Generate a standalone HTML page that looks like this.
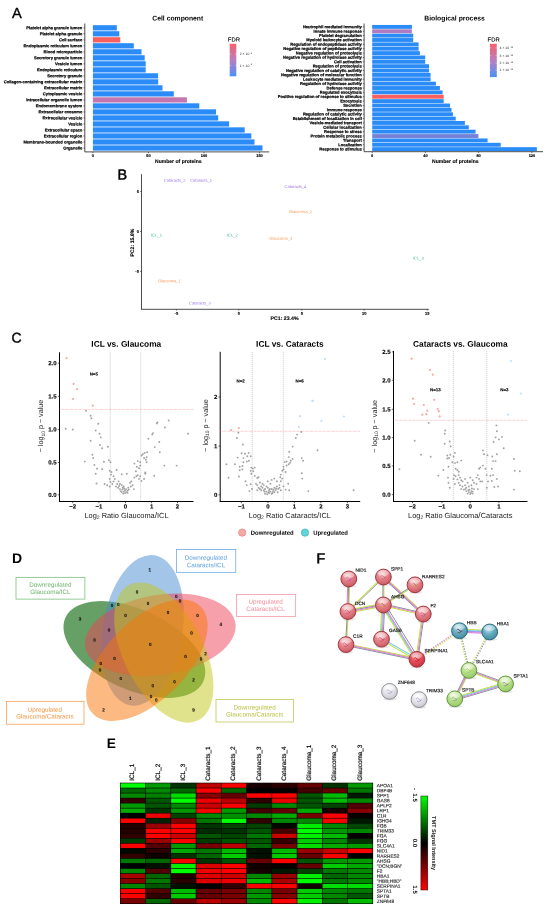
<!DOCTYPE html>
<html><head><meta charset="utf-8"><title>Figure</title>
<style>html,body{margin:0;padding:0;background:#fff}svg{display:block}text{font-family:"Liberation Sans",Arial,Helvetica,sans-serif;text-rendering:geometricPrecision}</style></head>
<body>
<svg width="550" height="911" viewBox="0 0 550 911">
<defs>
<linearGradient id="gA" x1="0" y1="0" x2="0" y2="1"><stop offset="0" stop-color="#f9606a"/><stop offset="0.5" stop-color="#b87fc0"/><stop offset="1" stop-color="#4a90f8"/></linearGradient>
<linearGradient id="gE" x1="0" y1="0" x2="0" y2="1"><stop offset="0" stop-color="#00ff00"/><stop offset="0.5" stop-color="#000000"/><stop offset="1" stop-color="#ff0000"/></linearGradient>
<radialGradient id="nr" cx="0.42" cy="0.30" r="0.75"><stop offset="0" stop-color="#f8cfd0"/><stop offset="0.45" stop-color="#e4838a"/><stop offset="1" stop-color="#c8525c"/></radialGradient>
<radialGradient id="nr2" cx="0.42" cy="0.30" r="0.75"><stop offset="0" stop-color="#f3a8ac"/><stop offset="0.45" stop-color="#e2505a"/><stop offset="1" stop-color="#c22f3b"/></radialGradient>
<radialGradient id="nb" cx="0.42" cy="0.30" r="0.75"><stop offset="0" stop-color="#cdeaf1"/><stop offset="0.45" stop-color="#6aaec3"/><stop offset="1" stop-color="#3c889f"/></radialGradient>
<radialGradient id="ng" cx="0.42" cy="0.30" r="0.75"><stop offset="0" stop-color="#eefad9"/><stop offset="0.45" stop-color="#b7df8a"/><stop offset="1" stop-color="#90c660"/></radialGradient>
<radialGradient id="nw" cx="0.42" cy="0.30" r="0.75"><stop offset="0" stop-color="#ffffff"/><stop offset="0.45" stop-color="#e6e6ea"/><stop offset="1" stop-color="#c2c2cb"/></radialGradient>
</defs>
<rect x="0" y="0" width="550" height="911" fill="#fff"/>
<text x="11.90" y="17.90" font-size="14.6" text-anchor="start" fill="#000" transform="rotate(0.03 11.90 17.90)" stroke="#000" stroke-width="0.35">A</text>
<text x="117.50" y="179.40" font-size="14.4" text-anchor="start" fill="#000" transform="rotate(0.03 117.50 179.40)" stroke="#000" stroke-width="0.45">B</text>
<text x="11.40" y="342.60" font-size="14.0" text-anchor="start" fill="#000" transform="rotate(0.03 11.40 342.60)" stroke="#000" stroke-width="0.35">C</text>
<text x="12.10" y="563.00" font-size="14.0" font-weight="bold" text-anchor="start" fill="#000" transform="rotate(0.03 12.10 563.00)">D</text>
<text x="106.70" y="747.90" font-size="13.8" font-weight="bold" text-anchor="start" fill="#000" transform="rotate(0.03 106.70 747.90)">E</text>
<text x="316.40" y="563.20" font-size="14.2" text-anchor="start" fill="#000" transform="rotate(0.03 316.40 563.20)" stroke="#000" stroke-width="0.6">F</text>
<g id="panelA">
<rect x="92.90" y="25.18" width="23.90" height="5.25" fill="#2b8cf7"/>
<text x="82.30" y="29.25" font-size="4.13" font-weight="bold" text-anchor="end" fill="#000" transform="rotate(0.03 82.30 29.25)" stroke="#000" stroke-width="0.2">Platelet alpha granule lumen</text>
<line x1="83.40" y1="27.80" x2="84.80" y2="27.80" stroke="#000" stroke-width="0.5"/>
<rect x="92.90" y="31.19" width="26.40" height="5.25" fill="#2b8cf7"/>
<text x="82.30" y="35.26" font-size="4.13" font-weight="bold" text-anchor="end" fill="#000" transform="rotate(0.03 82.30 35.26)" stroke="#000" stroke-width="0.2">Platelet alpha granule</text>
<line x1="83.40" y1="33.81" x2="84.80" y2="33.81" stroke="#000" stroke-width="0.5"/>
<rect x="92.90" y="37.20" width="27.40" height="5.25" fill="#fa5f5f"/>
<text x="82.30" y="41.27" font-size="4.13" font-weight="bold" text-anchor="end" fill="#000" transform="rotate(0.03 82.30 41.27)" stroke="#000" stroke-width="0.2">Cell surface</text>
<line x1="83.40" y1="39.82" x2="84.80" y2="39.82" stroke="#000" stroke-width="0.5"/>
<rect x="92.90" y="43.20" width="40.90" height="5.25" fill="#2b8cf7"/>
<text x="82.30" y="47.28" font-size="4.13" font-weight="bold" text-anchor="end" fill="#000" transform="rotate(0.03 82.30 47.28)" stroke="#000" stroke-width="0.2">Endoplasmic reticulum lumen</text>
<line x1="83.40" y1="45.83" x2="84.80" y2="45.83" stroke="#000" stroke-width="0.5"/>
<rect x="92.90" y="49.22" width="48.60" height="5.25" fill="#2b8cf7"/>
<text x="82.30" y="53.29" font-size="4.13" font-weight="bold" text-anchor="end" fill="#000" transform="rotate(0.03 82.30 53.29)" stroke="#000" stroke-width="0.2">Blood microparticle</text>
<line x1="83.40" y1="51.84" x2="84.80" y2="51.84" stroke="#000" stroke-width="0.5"/>
<rect x="92.90" y="55.22" width="51.80" height="5.25" fill="#2b8cf7"/>
<text x="82.30" y="59.30" font-size="4.13" font-weight="bold" text-anchor="end" fill="#000" transform="rotate(0.03 82.30 59.30)" stroke="#000" stroke-width="0.2">Secretory granule lumen</text>
<line x1="83.40" y1="57.85" x2="84.80" y2="57.85" stroke="#000" stroke-width="0.5"/>
<rect x="92.90" y="61.23" width="52.80" height="5.25" fill="#2b8cf7"/>
<text x="82.30" y="65.31" font-size="4.13" font-weight="bold" text-anchor="end" fill="#000" transform="rotate(0.03 82.30 65.31)" stroke="#000" stroke-width="0.2">Vesicle lumen</text>
<line x1="83.40" y1="63.86" x2="84.80" y2="63.86" stroke="#000" stroke-width="0.5"/>
<rect x="92.90" y="67.25" width="52.80" height="5.25" fill="#2b8cf7"/>
<text x="82.30" y="71.32" font-size="4.13" font-weight="bold" text-anchor="end" fill="#000" transform="rotate(0.03 82.30 71.32)" stroke="#000" stroke-width="0.2">Endoplasmic reticulum</text>
<line x1="83.40" y1="69.87" x2="84.80" y2="69.87" stroke="#000" stroke-width="0.5"/>
<rect x="92.90" y="73.25" width="65.20" height="5.25" fill="#2b8cf7"/>
<text x="82.30" y="77.33" font-size="4.13" font-weight="bold" text-anchor="end" fill="#000" transform="rotate(0.03 82.30 77.33)" stroke="#000" stroke-width="0.2">Secretory granule</text>
<line x1="83.40" y1="75.88" x2="84.80" y2="75.88" stroke="#000" stroke-width="0.5"/>
<rect x="92.90" y="79.27" width="65.30" height="5.25" fill="#2b8cf7"/>
<text x="82.30" y="83.34" font-size="4.13" font-weight="bold" text-anchor="end" fill="#000" transform="rotate(0.03 82.30 83.34)" stroke="#000" stroke-width="0.2">Collagen-containing extracellular matrix</text>
<line x1="83.40" y1="81.89" x2="84.80" y2="81.89" stroke="#000" stroke-width="0.5"/>
<rect x="92.90" y="85.27" width="69.60" height="5.25" fill="#2b8cf7"/>
<text x="82.30" y="89.35" font-size="4.13" font-weight="bold" text-anchor="end" fill="#000" transform="rotate(0.03 82.30 89.35)" stroke="#000" stroke-width="0.2">Extracellular matrix</text>
<line x1="83.40" y1="87.90" x2="84.80" y2="87.90" stroke="#000" stroke-width="0.5"/>
<rect x="92.90" y="91.28" width="80.90" height="5.25" fill="#2b8cf7"/>
<text x="82.30" y="95.36" font-size="4.13" font-weight="bold" text-anchor="end" fill="#000" transform="rotate(0.03 82.30 95.36)" stroke="#000" stroke-width="0.2">Cytoplasmic vesicle</text>
<line x1="83.40" y1="93.91" x2="84.80" y2="93.91" stroke="#000" stroke-width="0.5"/>
<rect x="92.90" y="97.30" width="94.00" height="5.25" fill="#c476b0"/>
<text x="82.30" y="101.37" font-size="4.13" font-weight="bold" text-anchor="end" fill="#000" transform="rotate(0.03 82.30 101.37)" stroke="#000" stroke-width="0.2">Intracellular organelle lumen</text>
<line x1="83.40" y1="99.92" x2="84.80" y2="99.92" stroke="#000" stroke-width="0.5"/>
<rect x="92.90" y="103.30" width="106.40" height="5.25" fill="#2b8cf7"/>
<text x="82.30" y="107.38" font-size="4.13" font-weight="bold" text-anchor="end" fill="#000" transform="rotate(0.03 82.30 107.38)" stroke="#000" stroke-width="0.2">Endomembrane system</text>
<line x1="83.40" y1="105.93" x2="84.80" y2="105.93" stroke="#000" stroke-width="0.5"/>
<rect x="92.90" y="109.31" width="123.10" height="5.25" fill="#2b8cf7"/>
<text x="82.30" y="113.39" font-size="4.13" font-weight="bold" text-anchor="end" fill="#000" transform="rotate(0.03 82.30 113.39)" stroke="#000" stroke-width="0.2">Extracellular exosome</text>
<line x1="83.40" y1="111.94" x2="84.80" y2="111.94" stroke="#000" stroke-width="0.5"/>
<rect x="92.90" y="115.32" width="125.30" height="5.25" fill="#2b8cf7"/>
<text x="82.30" y="119.40" font-size="4.13" font-weight="bold" text-anchor="end" fill="#000" transform="rotate(0.03 82.30 119.40)" stroke="#000" stroke-width="0.2">Extracellular vesicle</text>
<line x1="83.40" y1="117.95" x2="84.80" y2="117.95" stroke="#000" stroke-width="0.5"/>
<rect x="92.90" y="121.33" width="136.20" height="5.25" fill="#2b8cf7"/>
<text x="82.30" y="125.41" font-size="4.13" font-weight="bold" text-anchor="end" fill="#000" transform="rotate(0.03 82.30 125.41)" stroke="#000" stroke-width="0.2">Vesicle</text>
<line x1="83.40" y1="123.96" x2="84.80" y2="123.96" stroke="#000" stroke-width="0.5"/>
<rect x="92.90" y="127.34" width="151.80" height="5.25" fill="#2b8cf7"/>
<text x="82.30" y="131.42" font-size="4.13" font-weight="bold" text-anchor="end" fill="#000" transform="rotate(0.03 82.30 131.42)" stroke="#000" stroke-width="0.2">Extracellular space</text>
<line x1="83.40" y1="129.97" x2="84.80" y2="129.97" stroke="#000" stroke-width="0.5"/>
<rect x="92.90" y="133.35" width="158.40" height="5.25" fill="#2b8cf7"/>
<text x="82.30" y="137.43" font-size="4.13" font-weight="bold" text-anchor="end" fill="#000" transform="rotate(0.03 82.30 137.43)" stroke="#000" stroke-width="0.2">Extracellular region</text>
<line x1="83.40" y1="135.98" x2="84.80" y2="135.98" stroke="#000" stroke-width="0.5"/>
<rect x="92.90" y="139.37" width="161.60" height="5.25" fill="#2b8cf7"/>
<text x="82.30" y="143.44" font-size="4.13" font-weight="bold" text-anchor="end" fill="#000" transform="rotate(0.03 82.30 143.44)" stroke="#000" stroke-width="0.2">Membrane-bounded organelle</text>
<line x1="83.40" y1="141.99" x2="84.80" y2="141.99" stroke="#000" stroke-width="0.5"/>
<rect x="92.90" y="145.38" width="169.60" height="5.25" fill="#2b8cf7"/>
<text x="82.30" y="149.45" font-size="4.13" font-weight="bold" text-anchor="end" fill="#000" transform="rotate(0.03 82.30 149.45)" stroke="#000" stroke-width="0.2">Organelle</text>
<line x1="83.40" y1="148.00" x2="84.80" y2="148.00" stroke="#000" stroke-width="0.5"/>
<line x1="84.80" y1="23.50" x2="84.80" y2="151.90" stroke="#000" stroke-width="0.7"/>
<line x1="84.80" y1="151.90" x2="269.20" y2="151.90" stroke="#000" stroke-width="0.7"/>
<line x1="92.90" y1="151.90" x2="92.90" y2="153.30" stroke="#000" stroke-width="0.5"/>
<text x="92.90" y="156.90" font-size="3.9" font-weight="bold" text-anchor="middle" fill="#000" transform="rotate(0.03 92.90 156.90)" stroke="#000" stroke-width="0.15">0</text>
<line x1="148.40" y1="151.90" x2="148.40" y2="153.30" stroke="#000" stroke-width="0.5"/>
<text x="148.40" y="156.90" font-size="3.9" font-weight="bold" text-anchor="middle" fill="#000" transform="rotate(0.03 148.40 156.90)" stroke="#000" stroke-width="0.15">50</text>
<line x1="204.00" y1="151.90" x2="204.00" y2="153.30" stroke="#000" stroke-width="0.5"/>
<text x="204.00" y="156.90" font-size="3.9" font-weight="bold" text-anchor="middle" fill="#000" transform="rotate(0.03 204.00 156.90)" stroke="#000" stroke-width="0.15">100</text>
<line x1="259.50" y1="151.90" x2="259.50" y2="153.30" stroke="#000" stroke-width="0.5"/>
<text x="259.50" y="156.90" font-size="3.9" font-weight="bold" text-anchor="middle" fill="#000" transform="rotate(0.03 259.50 156.90)" stroke="#000" stroke-width="0.15">150</text>
<text x="178.30" y="162.90" font-size="5.05" font-weight="bold" text-anchor="middle" fill="#000" transform="rotate(0.03 178.30 162.90)" stroke="#000" stroke-width="0.12">Number of proteins</text>
<text x="177.80" y="20.60" font-size="6.8" font-weight="bold" text-anchor="middle" fill="#000" transform="rotate(0.03 177.80 20.60)">Cell component</text>
<text x="227.80" y="41.50" font-size="5.9" text-anchor="start" fill="#000" transform="rotate(0.03 227.80 41.50)" stroke="#000" stroke-width="0.12">FDR</text>
<rect x="229.70" y="43.80" width="6.60" height="32.50" fill="url(#gA)"/>
<line x1="229.70" y1="54.20" x2="231.00" y2="54.20" stroke="#fff" stroke-width="0.4"/>
<line x1="235.00" y1="54.20" x2="236.30" y2="54.20" stroke="#fff" stroke-width="0.4"/>
<text x="239.8" y="55.30" font-size="3.4" fill="#222">2 × 10<tspan font-size="2.3" dy="-1.2">−3</tspan></text>
<line x1="229.70" y1="65.40" x2="231.00" y2="65.40" stroke="#fff" stroke-width="0.4"/>
<line x1="235.00" y1="65.40" x2="236.30" y2="65.40" stroke="#fff" stroke-width="0.4"/>
<text x="239.8" y="66.50" font-size="3.4" fill="#222">1 × 10<tspan font-size="2.3" dy="-1.2">−3</tspan></text>
</g>
<g id="panelA2">
<rect x="372.20" y="24.95" width="39.70" height="3.90" fill="#2b8cf7"/>
<text x="361.80" y="28.30" font-size="4.1" font-weight="bold" text-anchor="end" fill="#000" transform="rotate(0.03 361.80 28.30)" stroke="#000" stroke-width="0.2">Neutrophil mediated immunity</text>
<line x1="362.80" y1="26.90" x2="364.10" y2="26.90" stroke="#000" stroke-width="0.5"/>
<rect x="372.20" y="29.32" width="39.70" height="3.90" fill="#af7abf"/>
<text x="361.80" y="32.66" font-size="4.1" font-weight="bold" text-anchor="end" fill="#000" transform="rotate(0.03 361.80 32.66)" stroke="#000" stroke-width="0.2">Innate immune response</text>
<line x1="362.80" y1="31.27" x2="364.10" y2="31.27" stroke="#000" stroke-width="0.5"/>
<rect x="372.20" y="33.68" width="41.00" height="3.90" fill="#2b8cf7"/>
<text x="361.80" y="37.03" font-size="4.1" font-weight="bold" text-anchor="end" fill="#000" transform="rotate(0.03 361.80 37.03)" stroke="#000" stroke-width="0.2">Platelet degranulation</text>
<line x1="362.80" y1="35.63" x2="364.10" y2="35.63" stroke="#000" stroke-width="0.5"/>
<rect x="372.20" y="38.04" width="41.00" height="3.90" fill="#2b8cf7"/>
<text x="361.80" y="41.39" font-size="4.1" font-weight="bold" text-anchor="end" fill="#000" transform="rotate(0.03 361.80 41.39)" stroke="#000" stroke-width="0.2">Myeloid leukocyte activation</text>
<line x1="362.80" y1="39.99" x2="364.10" y2="39.99" stroke="#000" stroke-width="0.5"/>
<rect x="372.20" y="42.41" width="46.40" height="3.90" fill="#2b8cf7"/>
<text x="361.80" y="45.76" font-size="4.1" font-weight="bold" text-anchor="end" fill="#000" transform="rotate(0.03 361.80 45.76)" stroke="#000" stroke-width="0.2">Regulation of endopeptidase activity</text>
<line x1="362.80" y1="44.36" x2="364.10" y2="44.36" stroke="#000" stroke-width="0.5"/>
<rect x="372.20" y="46.77" width="46.40" height="3.90" fill="#2b8cf7"/>
<text x="361.80" y="50.12" font-size="4.1" font-weight="bold" text-anchor="end" fill="#000" transform="rotate(0.03 361.80 50.12)" stroke="#000" stroke-width="0.2">Negative regulation of peptidase activity</text>
<line x1="362.80" y1="48.73" x2="364.10" y2="48.73" stroke="#000" stroke-width="0.5"/>
<rect x="372.20" y="51.14" width="47.70" height="3.90" fill="#2b8cf7"/>
<text x="361.80" y="54.49" font-size="4.1" font-weight="bold" text-anchor="end" fill="#000" transform="rotate(0.03 361.80 54.49)" stroke="#000" stroke-width="0.2">Negative regulation of proteolysis</text>
<line x1="362.80" y1="53.09" x2="364.10" y2="53.09" stroke="#000" stroke-width="0.5"/>
<rect x="372.20" y="55.50" width="53.00" height="3.90" fill="#2b8cf7"/>
<text x="361.80" y="58.85" font-size="4.1" font-weight="bold" text-anchor="end" fill="#000" transform="rotate(0.03 361.80 58.85)" stroke="#000" stroke-width="0.2">Negative regulation of hydrolase activity</text>
<line x1="362.80" y1="57.45" x2="364.10" y2="57.45" stroke="#000" stroke-width="0.5"/>
<rect x="372.20" y="59.87" width="53.00" height="3.90" fill="#2b8cf7"/>
<text x="361.80" y="63.22" font-size="4.1" font-weight="bold" text-anchor="end" fill="#000" transform="rotate(0.03 361.80 63.22)" stroke="#000" stroke-width="0.2">Cell activation</text>
<line x1="362.80" y1="61.82" x2="364.10" y2="61.82" stroke="#000" stroke-width="0.5"/>
<rect x="372.20" y="64.23" width="56.80" height="3.90" fill="#2b8cf7"/>
<text x="361.80" y="67.59" font-size="4.1" font-weight="bold" text-anchor="end" fill="#000" transform="rotate(0.03 361.80 67.59)" stroke="#000" stroke-width="0.2">Regulation of proteolysis</text>
<line x1="362.80" y1="66.19" x2="364.10" y2="66.19" stroke="#000" stroke-width="0.5"/>
<rect x="372.20" y="68.60" width="56.80" height="3.90" fill="#2b8cf7"/>
<text x="361.80" y="71.95" font-size="4.1" font-weight="bold" text-anchor="end" fill="#000" transform="rotate(0.03 361.80 71.95)" stroke="#000" stroke-width="0.2">Negative regulation of catalytic activity</text>
<line x1="362.80" y1="70.55" x2="364.10" y2="70.55" stroke="#000" stroke-width="0.5"/>
<rect x="372.20" y="72.96" width="58.40" height="3.90" fill="#2b8cf7"/>
<text x="361.80" y="76.31" font-size="4.1" font-weight="bold" text-anchor="end" fill="#000" transform="rotate(0.03 361.80 76.31)" stroke="#000" stroke-width="0.2">Negative regulation of molecular function</text>
<line x1="362.80" y1="74.91" x2="364.10" y2="74.91" stroke="#000" stroke-width="0.5"/>
<rect x="372.20" y="77.33" width="58.40" height="3.90" fill="#2b8cf7"/>
<text x="361.80" y="80.68" font-size="4.1" font-weight="bold" text-anchor="end" fill="#000" transform="rotate(0.03 361.80 80.68)" stroke="#000" stroke-width="0.2">Leukocyte mediated immunity</text>
<line x1="362.80" y1="79.28" x2="364.10" y2="79.28" stroke="#000" stroke-width="0.5"/>
<rect x="372.20" y="81.70" width="63.70" height="3.90" fill="#2b8cf7"/>
<text x="361.80" y="85.05" font-size="4.1" font-weight="bold" text-anchor="end" fill="#000" transform="rotate(0.03 361.80 85.05)" stroke="#000" stroke-width="0.2">Regulation of hydrolase activity</text>
<line x1="362.80" y1="83.65" x2="364.10" y2="83.65" stroke="#000" stroke-width="0.5"/>
<rect x="372.20" y="86.06" width="67.70" height="3.90" fill="#2b8cf7"/>
<text x="361.80" y="89.41" font-size="4.1" font-weight="bold" text-anchor="end" fill="#000" transform="rotate(0.03 361.80 89.41)" stroke="#000" stroke-width="0.2">Defense response</text>
<line x1="362.80" y1="88.01" x2="364.10" y2="88.01" stroke="#000" stroke-width="0.5"/>
<rect x="372.20" y="90.42" width="70.40" height="3.90" fill="#2b8cf7"/>
<text x="361.80" y="93.78" font-size="4.1" font-weight="bold" text-anchor="end" fill="#000" transform="rotate(0.03 361.80 93.78)" stroke="#000" stroke-width="0.2">Regulated exocytosis</text>
<line x1="362.80" y1="92.38" x2="364.10" y2="92.38" stroke="#000" stroke-width="0.5"/>
<rect x="372.20" y="94.79" width="71.50" height="3.90" fill="#fa5f5f"/>
<text x="361.80" y="98.14" font-size="4.1" font-weight="bold" text-anchor="end" fill="#000" transform="rotate(0.03 361.80 98.14)" stroke="#000" stroke-width="0.2">Positive regulation of response to stimulus</text>
<line x1="362.80" y1="96.74" x2="364.10" y2="96.74" stroke="#000" stroke-width="0.5"/>
<rect x="372.20" y="99.15" width="71.50" height="3.90" fill="#2b8cf7"/>
<text x="361.80" y="102.50" font-size="4.1" font-weight="bold" text-anchor="end" fill="#000" transform="rotate(0.03 361.80 102.50)" stroke="#000" stroke-width="0.2">Exocytosis</text>
<line x1="362.80" y1="101.10" x2="364.10" y2="101.10" stroke="#000" stroke-width="0.5"/>
<rect x="372.20" y="103.52" width="77.80" height="3.90" fill="#2b8cf7"/>
<text x="361.80" y="106.87" font-size="4.1" font-weight="bold" text-anchor="end" fill="#000" transform="rotate(0.03 361.80 106.87)" stroke="#000" stroke-width="0.2">Secretion</text>
<line x1="362.80" y1="105.47" x2="364.10" y2="105.47" stroke="#000" stroke-width="0.5"/>
<rect x="372.20" y="107.89" width="79.30" height="3.90" fill="#2b8cf7"/>
<text x="361.80" y="111.24" font-size="4.1" font-weight="bold" text-anchor="end" fill="#000" transform="rotate(0.03 361.80 111.24)" stroke="#000" stroke-width="0.2">Immune response</text>
<line x1="362.80" y1="109.84" x2="364.10" y2="109.84" stroke="#000" stroke-width="0.5"/>
<rect x="372.20" y="112.25" width="80.70" height="3.90" fill="#2b8cf7"/>
<text x="361.80" y="115.60" font-size="4.1" font-weight="bold" text-anchor="end" fill="#000" transform="rotate(0.03 361.80 115.60)" stroke="#000" stroke-width="0.2">Regulation of catalytic activity</text>
<line x1="362.80" y1="114.20" x2="364.10" y2="114.20" stroke="#000" stroke-width="0.5"/>
<rect x="372.20" y="116.61" width="83.50" height="3.90" fill="#2b8cf7"/>
<text x="361.80" y="119.97" font-size="4.1" font-weight="bold" text-anchor="end" fill="#000" transform="rotate(0.03 361.80 119.97)" stroke="#000" stroke-width="0.2">Establishment of localization in cell</text>
<line x1="362.80" y1="118.56" x2="364.10" y2="118.56" stroke="#000" stroke-width="0.5"/>
<rect x="372.20" y="120.98" width="92.70" height="3.90" fill="#2b8cf7"/>
<text x="361.80" y="124.33" font-size="4.1" font-weight="bold" text-anchor="end" fill="#000" transform="rotate(0.03 361.80 124.33)" stroke="#000" stroke-width="0.2">Vesicle-mediated transport</text>
<line x1="362.80" y1="122.93" x2="364.10" y2="122.93" stroke="#000" stroke-width="0.5"/>
<rect x="372.20" y="125.35" width="96.60" height="3.90" fill="#2b8cf7"/>
<text x="361.80" y="128.70" font-size="4.1" font-weight="bold" text-anchor="end" fill="#000" transform="rotate(0.03 361.80 128.70)" stroke="#000" stroke-width="0.2">Cellular localization</text>
<line x1="362.80" y1="127.30" x2="364.10" y2="127.30" stroke="#000" stroke-width="0.5"/>
<rect x="372.20" y="129.71" width="103.40" height="3.90" fill="#2b8cf7"/>
<text x="361.80" y="133.06" font-size="4.1" font-weight="bold" text-anchor="end" fill="#000" transform="rotate(0.03 361.80 133.06)" stroke="#000" stroke-width="0.2">Response to stress</text>
<line x1="362.80" y1="131.66" x2="364.10" y2="131.66" stroke="#000" stroke-width="0.5"/>
<rect x="372.20" y="134.08" width="106.20" height="3.90" fill="#7482d8"/>
<text x="361.80" y="137.43" font-size="4.1" font-weight="bold" text-anchor="end" fill="#000" transform="rotate(0.03 361.80 137.43)" stroke="#000" stroke-width="0.2">Protein metabolic process</text>
<line x1="362.80" y1="136.03" x2="364.10" y2="136.03" stroke="#000" stroke-width="0.5"/>
<rect x="372.20" y="138.44" width="115.40" height="3.90" fill="#2b8cf7"/>
<text x="361.80" y="141.79" font-size="4.1" font-weight="bold" text-anchor="end" fill="#000" transform="rotate(0.03 361.80 141.79)" stroke="#000" stroke-width="0.2">Transport</text>
<line x1="362.80" y1="140.39" x2="364.10" y2="140.39" stroke="#000" stroke-width="0.5"/>
<rect x="372.20" y="142.81" width="128.50" height="3.90" fill="#2b8cf7"/>
<text x="361.80" y="146.16" font-size="4.1" font-weight="bold" text-anchor="end" fill="#000" transform="rotate(0.03 361.80 146.16)" stroke="#000" stroke-width="0.2">Localization</text>
<line x1="362.80" y1="144.75" x2="364.10" y2="144.75" stroke="#000" stroke-width="0.5"/>
<rect x="372.20" y="147.17" width="164.70" height="3.90" fill="#2b8cf7"/>
<text x="361.80" y="150.52" font-size="4.1" font-weight="bold" text-anchor="end" fill="#000" transform="rotate(0.03 361.80 150.52)" stroke="#000" stroke-width="0.2">Response to stimulus</text>
<line x1="362.80" y1="149.12" x2="364.10" y2="149.12" stroke="#000" stroke-width="0.5"/>
<line x1="364.10" y1="23.50" x2="364.10" y2="151.70" stroke="#000" stroke-width="0.7"/>
<line x1="364.10" y1="151.70" x2="543.00" y2="151.70" stroke="#000" stroke-width="0.7"/>
<line x1="372.20" y1="151.70" x2="372.20" y2="153.10" stroke="#000" stroke-width="0.5"/>
<text x="372.20" y="156.90" font-size="3.9" font-weight="bold" text-anchor="middle" fill="#000" transform="rotate(0.03 372.20 156.90)" stroke="#000" stroke-width="0.15">0</text>
<line x1="425.40" y1="151.70" x2="425.40" y2="153.10" stroke="#000" stroke-width="0.5"/>
<text x="425.40" y="156.90" font-size="3.9" font-weight="bold" text-anchor="middle" fill="#000" transform="rotate(0.03 425.40 156.90)" stroke="#000" stroke-width="0.15">40</text>
<line x1="478.60" y1="151.70" x2="478.60" y2="153.10" stroke="#000" stroke-width="0.5"/>
<text x="478.60" y="156.90" font-size="3.9" font-weight="bold" text-anchor="middle" fill="#000" transform="rotate(0.03 478.60 156.90)" stroke="#000" stroke-width="0.15">80</text>
<line x1="531.90" y1="151.70" x2="531.90" y2="153.10" stroke="#000" stroke-width="0.5"/>
<text x="531.90" y="156.90" font-size="3.9" font-weight="bold" text-anchor="middle" fill="#000" transform="rotate(0.03 531.90 156.90)" stroke="#000" stroke-width="0.15">120</text>
<text x="455.30" y="162.90" font-size="5.05" font-weight="bold" text-anchor="middle" fill="#000" transform="rotate(0.03 455.30 162.90)" stroke="#000" stroke-width="0.12">Number of proteins</text>
<text x="454.50" y="20.60" font-size="6.8" font-weight="bold" text-anchor="middle" fill="#000" transform="rotate(0.03 454.50 20.60)">Biological process</text>
<text x="487.60" y="41.50" font-size="5.9" text-anchor="start" fill="#000" transform="rotate(0.03 487.60 41.50)" stroke="#000" stroke-width="0.12">FDR</text>
<rect x="489.90" y="43.80" width="6.90" height="33.30" fill="url(#gA)"/>
<line x1="489.90" y1="47.80" x2="491.20" y2="47.80" stroke="#fff" stroke-width="0.4"/>
<line x1="495.50" y1="47.80" x2="496.80" y2="47.80" stroke="#fff" stroke-width="0.4"/>
<text x="499.6" y="48.90" font-size="3.4" fill="#222">4 × 10<tspan font-size="2.3" dy="-1.2">−13</tspan></text>
<line x1="489.90" y1="55.70" x2="491.20" y2="55.70" stroke="#fff" stroke-width="0.4"/>
<line x1="495.50" y1="55.70" x2="496.80" y2="55.70" stroke="#fff" stroke-width="0.4"/>
<text x="499.6" y="56.80" font-size="3.4" fill="#222">3 × 10<tspan font-size="2.3" dy="-1.2">−13</tspan></text>
<line x1="489.90" y1="63.10" x2="491.20" y2="63.10" stroke="#fff" stroke-width="0.4"/>
<line x1="495.50" y1="63.10" x2="496.80" y2="63.10" stroke="#fff" stroke-width="0.4"/>
<text x="499.6" y="64.20" font-size="3.4" fill="#222">2 × 10<tspan font-size="2.3" dy="-1.2">−13</tspan></text>
<line x1="489.90" y1="70.20" x2="491.20" y2="70.20" stroke="#fff" stroke-width="0.4"/>
<line x1="495.50" y1="70.20" x2="496.80" y2="70.20" stroke="#fff" stroke-width="0.4"/>
<text x="499.6" y="71.30" font-size="3.4" fill="#222">1 × 10<tspan font-size="2.3" dy="-1.2">−13</tspan></text>
</g>
<g id="panelB">
<line x1="141.50" y1="174.20" x2="141.50" y2="309.30" stroke="#000" stroke-width="0.7"/>
<line x1="141.15" y1="309.30" x2="428.80" y2="309.30" stroke="#000" stroke-width="0.7"/>
<line x1="140.10" y1="191.50" x2="141.50" y2="191.50" stroke="#000" stroke-width="0.5"/>
<text x="138.90" y="192.90" font-size="4.0" font-weight="bold" text-anchor="end" fill="#000" transform="rotate(0.03 138.90 192.90)" stroke="#000" stroke-width="0.12">5</text>
<line x1="140.10" y1="231.50" x2="141.50" y2="231.50" stroke="#000" stroke-width="0.5"/>
<text x="138.90" y="232.90" font-size="4.0" font-weight="bold" text-anchor="end" fill="#000" transform="rotate(0.03 138.90 232.90)" stroke="#000" stroke-width="0.12">0</text>
<line x1="140.10" y1="271.40" x2="141.50" y2="271.40" stroke="#000" stroke-width="0.5"/>
<text x="138.90" y="272.80" font-size="4.0" font-weight="bold" text-anchor="end" fill="#000" transform="rotate(0.03 138.90 272.80)" stroke="#000" stroke-width="0.12">-5</text>
<line x1="176.40" y1="309.30" x2="176.40" y2="310.60" stroke="#000" stroke-width="0.5"/>
<text x="176.40" y="314.80" font-size="4.0" font-weight="bold" text-anchor="middle" fill="#000" transform="rotate(0.03 176.40 314.80)" stroke="#000" stroke-width="0.12">-5</text>
<line x1="238.80" y1="309.30" x2="238.80" y2="310.60" stroke="#000" stroke-width="0.5"/>
<text x="238.80" y="314.80" font-size="4.0" font-weight="bold" text-anchor="middle" fill="#000" transform="rotate(0.03 238.80 314.80)" stroke="#000" stroke-width="0.12">0</text>
<line x1="301.80" y1="309.30" x2="301.80" y2="310.60" stroke="#000" stroke-width="0.5"/>
<text x="301.80" y="314.80" font-size="4.0" font-weight="bold" text-anchor="middle" fill="#000" transform="rotate(0.03 301.80 314.80)" stroke="#000" stroke-width="0.12">5</text>
<line x1="364.20" y1="309.30" x2="364.20" y2="310.60" stroke="#000" stroke-width="0.5"/>
<text x="364.20" y="314.80" font-size="4.0" font-weight="bold" text-anchor="middle" fill="#000" transform="rotate(0.03 364.20 314.80)" stroke="#000" stroke-width="0.12">10</text>
<line x1="427.20" y1="309.30" x2="427.20" y2="310.60" stroke="#000" stroke-width="0.5"/>
<text x="427.20" y="314.80" font-size="4.0" font-weight="bold" text-anchor="middle" fill="#000" transform="rotate(0.03 427.20 314.80)" stroke="#000" stroke-width="0.12">15</text>
<text x="284.60" y="320.10" font-size="5.2" font-weight="bold" text-anchor="middle" fill="#000" transform="rotate(0.03 284.60 320.10)" stroke="#000" stroke-width="0.12">PC1: 23.4%</text>
<text x="134.10" y="242.60" font-size="5.2" font-weight="bold" text-anchor="middle" fill="#000" transform="rotate(-90 134.10 242.60)" stroke="#000" stroke-width="0.12">PC2: 15.6%</text>
<text x="174.70" y="181.70" font-size="4.05" text-anchor="middle" fill="#9b72e6" transform="rotate(0.03 174.70 181.70)">Cataracts_2</text>
<text x="201.10" y="181.70" font-size="4.05" text-anchor="middle" fill="#9b72e6" transform="rotate(0.03 201.10 181.70)">Cataracts_1</text>
<text x="295.40" y="188.10" font-size="4.05" text-anchor="middle" fill="#9b72e6" transform="rotate(0.03 295.40 188.10)">Cataracts_4</text>
<text x="300.50" y="213.00" font-size="4.05" text-anchor="middle" fill="#f79a5e" transform="rotate(0.03 300.50 213.00)">Glaucoma_2</text>
<text x="280.80" y="239.70" font-size="4.05" text-anchor="middle" fill="#f79a5e" transform="rotate(0.03 280.80 239.70)">Glaucoma_3</text>
<text x="156.60" y="236.60" font-size="4.05" text-anchor="middle" fill="#35b58c" transform="rotate(0.03 156.60 236.60)">ICL_1</text>
<text x="232.30" y="236.60" font-size="4.05" text-anchor="middle" fill="#35b58c" transform="rotate(0.03 232.30 236.60)">ICL_2</text>
<text x="418.30" y="259.40" font-size="4.05" text-anchor="middle" fill="#35b58c" transform="rotate(0.03 418.30 259.40)">ICL_3</text>
<text x="169.40" y="282.30" font-size="4.05" text-anchor="middle" fill="#f79a5e" transform="rotate(0.03 169.40 282.30)">Glaucoma_1</text>
<text x="199.90" y="304.60" font-size="4.05" text-anchor="middle" fill="#9b72e6" transform="rotate(0.03 199.90 304.60)">Cataracts_3</text>
</g>
<g id="panelC">
<line x1="59.50" y1="352.30" x2="59.50" y2="501.50" stroke="#000" stroke-width="1.0"/>
<line x1="59.00" y1="501.50" x2="193.50" y2="501.50" stroke="#000" stroke-width="1.0"/>
<line x1="72.70" y1="501.50" x2="72.70" y2="503.20" stroke="#000" stroke-width="0.6"/>
<text x="72.70" y="508.60" font-size="6.0" font-weight="bold" text-anchor="middle" fill="#000" transform="rotate(0.03 72.70 508.60)" stroke="#000" stroke-width="0.12">−2</text>
<line x1="98.90" y1="501.50" x2="98.90" y2="503.20" stroke="#000" stroke-width="0.6"/>
<text x="98.90" y="508.60" font-size="6.0" font-weight="bold" text-anchor="middle" fill="#000" transform="rotate(0.03 98.90 508.60)" stroke="#000" stroke-width="0.12">−1</text>
<line x1="125.50" y1="501.50" x2="125.50" y2="503.20" stroke="#000" stroke-width="0.6"/>
<text x="125.50" y="508.60" font-size="6.0" font-weight="bold" text-anchor="middle" fill="#000" transform="rotate(0.03 125.50 508.60)" stroke="#000" stroke-width="0.12">0</text>
<line x1="151.60" y1="501.50" x2="151.60" y2="503.20" stroke="#000" stroke-width="0.6"/>
<text x="151.60" y="508.60" font-size="6.0" font-weight="bold" text-anchor="middle" fill="#000" transform="rotate(0.03 151.60 508.60)" stroke="#000" stroke-width="0.12">1</text>
<line x1="177.50" y1="501.50" x2="177.50" y2="503.20" stroke="#000" stroke-width="0.6"/>
<text x="177.50" y="508.60" font-size="6.0" font-weight="bold" text-anchor="middle" fill="#000" transform="rotate(0.03 177.50 508.60)" stroke="#000" stroke-width="0.12">2</text>
<line x1="57.80" y1="363.20" x2="59.50" y2="363.20" stroke="#000" stroke-width="0.6"/>
<text x="56.60" y="365.30" font-size="6.0" font-weight="bold" text-anchor="end" fill="#000" transform="rotate(0.03 56.60 365.30)" stroke="#000" stroke-width="0.12">2.0</text>
<line x1="57.80" y1="396.30" x2="59.50" y2="396.30" stroke="#000" stroke-width="0.6"/>
<text x="56.60" y="398.40" font-size="6.0" font-weight="bold" text-anchor="end" fill="#000" transform="rotate(0.03 56.60 398.40)" stroke="#000" stroke-width="0.12">1.5</text>
<line x1="57.80" y1="429.40" x2="59.50" y2="429.40" stroke="#000" stroke-width="0.6"/>
<text x="56.60" y="431.50" font-size="6.0" font-weight="bold" text-anchor="end" fill="#000" transform="rotate(0.03 56.60 431.50)" stroke="#000" stroke-width="0.12">1.0</text>
<line x1="57.80" y1="462.50" x2="59.50" y2="462.50" stroke="#000" stroke-width="0.6"/>
<text x="56.60" y="464.60" font-size="6.0" font-weight="bold" text-anchor="end" fill="#000" transform="rotate(0.03 56.60 464.60)" stroke="#000" stroke-width="0.12">0.5</text>
<line x1="57.80" y1="494.80" x2="59.50" y2="494.80" stroke="#000" stroke-width="0.6"/>
<text x="56.60" y="496.90" font-size="6.0" font-weight="bold" text-anchor="end" fill="#000" transform="rotate(0.03 56.60 496.90)" stroke="#000" stroke-width="0.12">0.0</text>
<line x1="110.20" y1="352.30" x2="110.20" y2="501.50" stroke="#999" stroke-width="0.5" stroke-dasharray="1 1"/>
<line x1="140.70" y1="352.30" x2="140.70" y2="501.50" stroke="#999" stroke-width="0.5" stroke-dasharray="1 1"/>
<line x1="59.50" y1="409.40" x2="193.50" y2="409.40" stroke="#f57c7c" stroke-width="0.5" stroke-dasharray="0.7 0.6"/>
<text x="126.30" y="346.80" font-size="8.35" font-weight="bold" text-anchor="middle" fill="#000" transform="rotate(0.03 126.30 346.80)">ICL vs. Glaucoma</text>
<text x="43.20" y="426.00" font-size="7.2" text-anchor="middle" fill="#222" transform="rotate(-90 43.20 426.00)">− log<tspan font-size="4.90" dy="1.4">10</tspan><tspan dy="-1.4"> p − value</tspan></text>
<text x="126.50" y="518.00" font-size="7.42" text-anchor="middle" fill="#222">Log<tspan font-size="5.05" dy="1.4">2</tspan><tspan dy="-1.4"> Ratio Glaucoma</tspan><tspan font-size="8.31">/</tspan>ICL</text>
<text x="93.80" y="375.40" font-size="4.45" font-weight="bold" text-anchor="middle" fill="#000" transform="rotate(0.03 93.80 375.40)" stroke="#000" stroke-width="0.12">N=5</text>
<circle cx="65.7" cy="428.8" r="0.95" fill="#8a8a8a" fill-opacity="0.8"/>
<circle cx="72.8" cy="429.5" r="0.95" fill="#8a8a8a" fill-opacity="0.8"/>
<circle cx="86.0" cy="410.7" r="0.95" fill="#8a8a8a" fill-opacity="0.8"/>
<circle cx="90.6" cy="415.8" r="0.95" fill="#8a8a8a" fill-opacity="0.8"/>
<circle cx="91.4" cy="418.3" r="0.95" fill="#8a8a8a" fill-opacity="0.8"/>
<circle cx="98.3" cy="423.7" r="0.95" fill="#8a8a8a" fill-opacity="0.8"/>
<circle cx="95.7" cy="430.5" r="0.95" fill="#8a8a8a" fill-opacity="0.8"/>
<circle cx="99.5" cy="433.8" r="0.95" fill="#8a8a8a" fill-opacity="0.8"/>
<circle cx="100.8" cy="437.4" r="0.95" fill="#8a8a8a" fill-opacity="0.8"/>
<circle cx="90.6" cy="440.7" r="0.95" fill="#8a8a8a" fill-opacity="0.8"/>
<circle cx="100.0" cy="445.0" r="0.95" fill="#8a8a8a" fill-opacity="0.8"/>
<circle cx="102.1" cy="448.3" r="0.95" fill="#8a8a8a" fill-opacity="0.8"/>
<circle cx="107.9" cy="446.8" r="0.95" fill="#8a8a8a" fill-opacity="0.8"/>
<circle cx="92.4" cy="454.7" r="0.95" fill="#8a8a8a" fill-opacity="0.8"/>
<circle cx="93.2" cy="458.0" r="0.95" fill="#8a8a8a" fill-opacity="0.8"/>
<circle cx="84.8" cy="461.6" r="0.95" fill="#8a8a8a" fill-opacity="0.8"/>
<circle cx="94.4" cy="464.9" r="0.95" fill="#8a8a8a" fill-opacity="0.8"/>
<circle cx="103.9" cy="461.8" r="0.95" fill="#8a8a8a" fill-opacity="0.8"/>
<circle cx="108.9" cy="460.3" r="0.95" fill="#8a8a8a" fill-opacity="0.8"/>
<circle cx="97.0" cy="468.7" r="0.95" fill="#8a8a8a" fill-opacity="0.8"/>
<circle cx="102.1" cy="469.2" r="0.95" fill="#8a8a8a" fill-opacity="0.8"/>
<circle cx="110.5" cy="462.3" r="0.95" fill="#8a8a8a" fill-opacity="0.8"/>
<circle cx="95.7" cy="473.8" r="0.95" fill="#8a8a8a" fill-opacity="0.8"/>
<circle cx="109.7" cy="470.7" r="0.95" fill="#8a8a8a" fill-opacity="0.8"/>
<circle cx="111.5" cy="472.0" r="0.95" fill="#8a8a8a" fill-opacity="0.8"/>
<circle cx="111.0" cy="474.6" r="0.95" fill="#8a8a8a" fill-opacity="0.8"/>
<circle cx="109.7" cy="478.9" r="0.95" fill="#8a8a8a" fill-opacity="0.8"/>
<circle cx="96.5" cy="483.5" r="0.95" fill="#8a8a8a" fill-opacity="0.8"/>
<circle cx="104.6" cy="484.0" r="0.95" fill="#8a8a8a" fill-opacity="0.8"/>
<circle cx="107.2" cy="485.2" r="0.95" fill="#8a8a8a" fill-opacity="0.8"/>
<circle cx="109.7" cy="486.5" r="0.95" fill="#8a8a8a" fill-opacity="0.8"/>
<circle cx="110.5" cy="481.9" r="0.95" fill="#8a8a8a" fill-opacity="0.8"/>
<circle cx="113.5" cy="476.3" r="0.95" fill="#8a8a8a" fill-opacity="0.8"/>
<circle cx="116.6" cy="470.0" r="0.95" fill="#8a8a8a" fill-opacity="0.8"/>
<circle cx="114.8" cy="478.9" r="0.95" fill="#8a8a8a" fill-opacity="0.8"/>
<circle cx="113.5" cy="481.4" r="0.95" fill="#8a8a8a" fill-opacity="0.8"/>
<circle cx="118.6" cy="481.4" r="0.95" fill="#8a8a8a" fill-opacity="0.8"/>
<circle cx="121.7" cy="474.3" r="0.95" fill="#8a8a8a" fill-opacity="0.8"/>
<circle cx="126.8" cy="473.8" r="0.95" fill="#8a8a8a" fill-opacity="0.8"/>
<circle cx="119.9" cy="484.0" r="0.95" fill="#8a8a8a" fill-opacity="0.8"/>
<circle cx="121.7" cy="485.2" r="0.95" fill="#8a8a8a" fill-opacity="0.8"/>
<circle cx="116.1" cy="486.5" r="0.95" fill="#8a8a8a" fill-opacity="0.8"/>
<circle cx="118.1" cy="487.8" r="0.95" fill="#8a8a8a" fill-opacity="0.8"/>
<circle cx="123.7" cy="486.5" r="0.95" fill="#8a8a8a" fill-opacity="0.8"/>
<circle cx="119.9" cy="489.1" r="0.95" fill="#8a8a8a" fill-opacity="0.8"/>
<circle cx="122.4" cy="489.6" r="0.95" fill="#8a8a8a" fill-opacity="0.8"/>
<circle cx="125.0" cy="490.3" r="0.95" fill="#8a8a8a" fill-opacity="0.8"/>
<circle cx="123.7" cy="491.6" r="0.95" fill="#8a8a8a" fill-opacity="0.8"/>
<circle cx="126.2" cy="489.1" r="0.95" fill="#8a8a8a" fill-opacity="0.8"/>
<circle cx="127.5" cy="490.8" r="0.95" fill="#8a8a8a" fill-opacity="0.8"/>
<circle cx="121.7" cy="492.1" r="0.95" fill="#8a8a8a" fill-opacity="0.8"/>
<circle cx="125.0" cy="492.9" r="0.95" fill="#8a8a8a" fill-opacity="0.8"/>
<circle cx="123.2" cy="493.6" r="0.95" fill="#8a8a8a" fill-opacity="0.8"/>
<circle cx="127.5" cy="492.9" r="0.95" fill="#8a8a8a" fill-opacity="0.8"/>
<circle cx="128.8" cy="489.6" r="0.95" fill="#8a8a8a" fill-opacity="0.8"/>
<circle cx="130.1" cy="482.7" r="0.95" fill="#8a8a8a" fill-opacity="0.8"/>
<circle cx="131.3" cy="481.4" r="0.95" fill="#8a8a8a" fill-opacity="0.8"/>
<circle cx="132.6" cy="485.2" r="0.95" fill="#8a8a8a" fill-opacity="0.8"/>
<circle cx="134.4" cy="477.6" r="0.95" fill="#8a8a8a" fill-opacity="0.8"/>
<circle cx="136.4" cy="476.3" r="0.95" fill="#8a8a8a" fill-opacity="0.8"/>
<circle cx="137.7" cy="475.1" r="0.95" fill="#8a8a8a" fill-opacity="0.8"/>
<circle cx="135.9" cy="471.2" r="0.95" fill="#8a8a8a" fill-opacity="0.8"/>
<circle cx="139.0" cy="478.9" r="0.95" fill="#8a8a8a" fill-opacity="0.8"/>
<circle cx="140.2" cy="476.3" r="0.95" fill="#8a8a8a" fill-opacity="0.8"/>
<circle cx="141.5" cy="480.9" r="0.95" fill="#8a8a8a" fill-opacity="0.8"/>
<circle cx="133.9" cy="489.1" r="0.95" fill="#8a8a8a" fill-opacity="0.8"/>
<circle cx="144.1" cy="478.9" r="0.95" fill="#8a8a8a" fill-opacity="0.8"/>
<circle cx="145.3" cy="473.8" r="0.95" fill="#8a8a8a" fill-opacity="0.8"/>
<circle cx="134.4" cy="463.6" r="0.95" fill="#8a8a8a" fill-opacity="0.8"/>
<circle cx="137.7" cy="461.1" r="0.95" fill="#8a8a8a" fill-opacity="0.8"/>
<circle cx="140.2" cy="462.3" r="0.95" fill="#8a8a8a" fill-opacity="0.8"/>
<circle cx="141.5" cy="455.5" r="0.95" fill="#8a8a8a" fill-opacity="0.8"/>
<circle cx="142.8" cy="454.2" r="0.95" fill="#8a8a8a" fill-opacity="0.8"/>
<circle cx="144.6" cy="452.9" r="0.95" fill="#8a8a8a" fill-opacity="0.8"/>
<circle cx="145.8" cy="459.8" r="0.95" fill="#8a8a8a" fill-opacity="0.8"/>
<circle cx="146.6" cy="457.3" r="0.95" fill="#8a8a8a" fill-opacity="0.8"/>
<circle cx="147.1" cy="452.2" r="0.95" fill="#8a8a8a" fill-opacity="0.8"/>
<circle cx="144.1" cy="458.0" r="0.95" fill="#8a8a8a" fill-opacity="0.8"/>
<circle cx="146.6" cy="462.3" r="0.95" fill="#8a8a8a" fill-opacity="0.8"/>
<circle cx="140.2" cy="465.6" r="0.95" fill="#8a8a8a" fill-opacity="0.8"/>
<circle cx="139.0" cy="468.2" r="0.95" fill="#8a8a8a" fill-opacity="0.8"/>
<circle cx="136.9" cy="466.7" r="0.95" fill="#8a8a8a" fill-opacity="0.8"/>
<circle cx="148.4" cy="438.7" r="0.95" fill="#8a8a8a" fill-opacity="0.8"/>
<circle cx="152.2" cy="434.4" r="0.95" fill="#8a8a8a" fill-opacity="0.8"/>
<circle cx="153.0" cy="433.1" r="0.95" fill="#8a8a8a" fill-opacity="0.8"/>
<circle cx="156.8" cy="423.4" r="0.95" fill="#8a8a8a" fill-opacity="0.8"/>
<circle cx="157.5" cy="422.4" r="0.95" fill="#8a8a8a" fill-opacity="0.8"/>
<circle cx="164.9" cy="427.5" r="0.95" fill="#8a8a8a" fill-opacity="0.8"/>
<circle cx="168.7" cy="420.4" r="0.95" fill="#8a8a8a" fill-opacity="0.8"/>
<circle cx="159.3" cy="442.0" r="0.95" fill="#8a8a8a" fill-opacity="0.8"/>
<circle cx="154.7" cy="447.1" r="0.95" fill="#8a8a8a" fill-opacity="0.8"/>
<circle cx="159.8" cy="452.2" r="0.95" fill="#8a8a8a" fill-opacity="0.8"/>
<circle cx="164.4" cy="465.6" r="0.95" fill="#8a8a8a" fill-opacity="0.8"/>
<circle cx="176.6" cy="465.6" r="0.95" fill="#8a8a8a" fill-opacity="0.8"/>
<circle cx="188.1" cy="433.8" r="0.95" fill="#8a8a8a" fill-opacity="0.8"/>
<circle cx="154.2" cy="475.8" r="0.95" fill="#8a8a8a" fill-opacity="0.8"/>
<circle cx="145.3" cy="472.5" r="0.95" fill="#8a8a8a" fill-opacity="0.8"/>
<circle cx="120.6" cy="491.1" r="0.95" fill="#8a8a8a" fill-opacity="0.8"/>
<circle cx="124.2" cy="488.5" r="0.95" fill="#8a8a8a" fill-opacity="0.8"/>
<circle cx="126.2" cy="492.1" r="0.95" fill="#8a8a8a" fill-opacity="0.8"/>
<circle cx="122.7" cy="487.8" r="0.95" fill="#8a8a8a" fill-opacity="0.8"/>
<circle cx="119.1" cy="486.0" r="0.95" fill="#8a8a8a" fill-opacity="0.8"/>
<circle cx="128.3" cy="487.8" r="0.95" fill="#8a8a8a" fill-opacity="0.8"/>
<circle cx="130.8" cy="486.5" r="0.95" fill="#8a8a8a" fill-opacity="0.8"/>
<circle cx="117.3" cy="484.0" r="0.95" fill="#8a8a8a" fill-opacity="0.8"/>
<circle cx="112.3" cy="484.0" r="0.95" fill="#8a8a8a" fill-opacity="0.8"/>
<circle cx="66.6" cy="358.2" r="1.1" fill="#f7aaa6"/>
<circle cx="73.6" cy="383.9" r="1.1" fill="#f7aaa6"/>
<circle cx="77.0" cy="389.2" r="1.1" fill="#f7aaa6"/>
<circle cx="73.1" cy="399.1" r="1.1" fill="#f7aaa6"/>
<circle cx="92.8" cy="405.7" r="1.1" fill="#f7aaa6"/>
<line x1="220.20" y1="351.80" x2="220.20" y2="501.50" stroke="#000" stroke-width="1.0"/>
<line x1="219.70" y1="501.50" x2="360.20" y2="501.50" stroke="#000" stroke-width="1.0"/>
<line x1="241.40" y1="501.50" x2="241.40" y2="503.20" stroke="#000" stroke-width="0.6"/>
<text x="241.40" y="508.60" font-size="6.0" font-weight="bold" text-anchor="middle" fill="#000" transform="rotate(0.03 241.40 508.60)" stroke="#000" stroke-width="0.12">−1</text>
<line x1="267.90" y1="501.50" x2="267.90" y2="503.20" stroke="#000" stroke-width="0.6"/>
<text x="267.90" y="508.60" font-size="6.0" font-weight="bold" text-anchor="middle" fill="#000" transform="rotate(0.03 267.90 508.60)" stroke="#000" stroke-width="0.12">0</text>
<line x1="294.40" y1="501.50" x2="294.40" y2="503.20" stroke="#000" stroke-width="0.6"/>
<text x="294.40" y="508.60" font-size="6.0" font-weight="bold" text-anchor="middle" fill="#000" transform="rotate(0.03 294.40 508.60)" stroke="#000" stroke-width="0.12">1</text>
<line x1="320.90" y1="501.50" x2="320.90" y2="503.20" stroke="#000" stroke-width="0.6"/>
<text x="320.90" y="508.60" font-size="6.0" font-weight="bold" text-anchor="middle" fill="#000" transform="rotate(0.03 320.90 508.60)" stroke="#000" stroke-width="0.12">2</text>
<line x1="347.40" y1="501.50" x2="347.40" y2="503.20" stroke="#000" stroke-width="0.6"/>
<text x="347.40" y="508.60" font-size="6.0" font-weight="bold" text-anchor="middle" fill="#000" transform="rotate(0.03 347.40 508.60)" stroke="#000" stroke-width="0.12">3</text>
<line x1="218.50" y1="397.00" x2="220.20" y2="397.00" stroke="#000" stroke-width="0.6"/>
<text x="217.30" y="399.10" font-size="6.0" font-weight="bold" text-anchor="end" fill="#000" transform="rotate(0.03 217.30 399.10)" stroke="#000" stroke-width="0.12">2</text>
<line x1="218.50" y1="446.10" x2="220.20" y2="446.10" stroke="#000" stroke-width="0.6"/>
<text x="217.30" y="448.20" font-size="6.0" font-weight="bold" text-anchor="end" fill="#000" transform="rotate(0.03 217.30 448.20)" stroke="#000" stroke-width="0.12">1</text>
<line x1="218.50" y1="494.80" x2="220.20" y2="494.80" stroke="#000" stroke-width="0.6"/>
<text x="217.30" y="496.90" font-size="6.0" font-weight="bold" text-anchor="end" fill="#000" transform="rotate(0.03 217.30 496.90)" stroke="#000" stroke-width="0.12">0</text>
<line x1="252.20" y1="351.80" x2="252.20" y2="501.50" stroke="#999" stroke-width="0.5" stroke-dasharray="1 1"/>
<line x1="283.30" y1="351.80" x2="283.30" y2="501.50" stroke="#999" stroke-width="0.5" stroke-dasharray="1 1"/>
<line x1="220.20" y1="431.30" x2="360.20" y2="431.30" stroke="#f57c7c" stroke-width="0.5" stroke-dasharray="0.7 0.6"/>
<text x="289.90" y="346.80" font-size="8.35" font-weight="bold" text-anchor="middle" fill="#000" transform="rotate(0.03 289.90 346.80)">ICL vs. Cataracts</text>
<text x="207.80" y="425.50" font-size="7.2" text-anchor="middle" fill="#222" transform="rotate(-90 207.80 425.50)">− log<tspan font-size="4.90" dy="1.4">10</tspan><tspan dy="-1.4"> p − value</tspan></text>
<text x="289.80" y="518.00" font-size="7.42" text-anchor="middle" fill="#222">Log<tspan font-size="5.05" dy="1.4">2</tspan><tspan dy="-1.4"> Ratio Cataracts</tspan><tspan font-size="8.31">/</tspan>ICL</text>
<text x="240.70" y="382.60" font-size="4.45" font-weight="bold" text-anchor="middle" fill="#000" transform="rotate(0.03 240.70 382.60)" stroke="#000" stroke-width="0.12">N=2</text>
<text x="299.60" y="382.60" font-size="4.45" font-weight="bold" text-anchor="middle" fill="#000" transform="rotate(0.03 299.60 382.60)" stroke="#000" stroke-width="0.12">N=6</text>
<circle cx="238.4" cy="432.7" r="0.95" fill="#8a8a8a" fill-opacity="0.8"/>
<circle cx="236.9" cy="438.0" r="0.95" fill="#8a8a8a" fill-opacity="0.8"/>
<circle cx="242.9" cy="444.5" r="0.95" fill="#8a8a8a" fill-opacity="0.8"/>
<circle cx="241.6" cy="453.2" r="0.95" fill="#8a8a8a" fill-opacity="0.8"/>
<circle cx="245.0" cy="453.7" r="0.95" fill="#8a8a8a" fill-opacity="0.8"/>
<circle cx="248.6" cy="452.9" r="0.95" fill="#8a8a8a" fill-opacity="0.8"/>
<circle cx="237.6" cy="457.6" r="0.95" fill="#8a8a8a" fill-opacity="0.8"/>
<circle cx="243.4" cy="458.1" r="0.95" fill="#8a8a8a" fill-opacity="0.8"/>
<circle cx="247.3" cy="456.3" r="0.95" fill="#8a8a8a" fill-opacity="0.8"/>
<circle cx="250.7" cy="456.3" r="0.95" fill="#8a8a8a" fill-opacity="0.8"/>
<circle cx="243.4" cy="462.3" r="0.95" fill="#8a8a8a" fill-opacity="0.8"/>
<circle cx="246.8" cy="461.5" r="0.95" fill="#8a8a8a" fill-opacity="0.8"/>
<circle cx="248.9" cy="460.7" r="0.95" fill="#8a8a8a" fill-opacity="0.8"/>
<circle cx="226.4" cy="464.2" r="0.95" fill="#8a8a8a" fill-opacity="0.8"/>
<circle cx="235.0" cy="464.2" r="0.95" fill="#8a8a8a" fill-opacity="0.8"/>
<circle cx="239.7" cy="466.8" r="0.95" fill="#8a8a8a" fill-opacity="0.8"/>
<circle cx="242.4" cy="466.0" r="0.95" fill="#8a8a8a" fill-opacity="0.8"/>
<circle cx="239.7" cy="470.2" r="0.95" fill="#8a8a8a" fill-opacity="0.8"/>
<circle cx="242.4" cy="469.4" r="0.95" fill="#8a8a8a" fill-opacity="0.8"/>
<circle cx="251.3" cy="467.6" r="0.95" fill="#8a8a8a" fill-opacity="0.8"/>
<circle cx="252.8" cy="468.6" r="0.95" fill="#8a8a8a" fill-opacity="0.8"/>
<circle cx="254.7" cy="467.6" r="0.95" fill="#8a8a8a" fill-opacity="0.8"/>
<circle cx="250.7" cy="470.7" r="0.95" fill="#8a8a8a" fill-opacity="0.8"/>
<circle cx="253.3" cy="471.2" r="0.95" fill="#8a8a8a" fill-opacity="0.8"/>
<circle cx="251.3" cy="473.8" r="0.95" fill="#8a8a8a" fill-opacity="0.8"/>
<circle cx="238.9" cy="476.5" r="0.95" fill="#8a8a8a" fill-opacity="0.8"/>
<circle cx="228.5" cy="477.8" r="0.95" fill="#8a8a8a" fill-opacity="0.8"/>
<circle cx="245.5" cy="481.2" r="0.95" fill="#8a8a8a" fill-opacity="0.8"/>
<circle cx="254.7" cy="475.9" r="0.95" fill="#8a8a8a" fill-opacity="0.8"/>
<circle cx="257.3" cy="478.0" r="0.95" fill="#8a8a8a" fill-opacity="0.8"/>
<circle cx="258.6" cy="477.2" r="0.95" fill="#8a8a8a" fill-opacity="0.8"/>
<circle cx="246.8" cy="485.1" r="0.95" fill="#8a8a8a" fill-opacity="0.8"/>
<circle cx="250.7" cy="484.3" r="0.95" fill="#8a8a8a" fill-opacity="0.8"/>
<circle cx="256.0" cy="483.8" r="0.95" fill="#8a8a8a" fill-opacity="0.8"/>
<circle cx="257.3" cy="485.1" r="0.95" fill="#8a8a8a" fill-opacity="0.8"/>
<circle cx="259.9" cy="482.5" r="0.95" fill="#8a8a8a" fill-opacity="0.8"/>
<circle cx="262.5" cy="483.8" r="0.95" fill="#8a8a8a" fill-opacity="0.8"/>
<circle cx="261.2" cy="486.4" r="0.95" fill="#8a8a8a" fill-opacity="0.8"/>
<circle cx="249.4" cy="491.1" r="0.95" fill="#8a8a8a" fill-opacity="0.8"/>
<circle cx="252.0" cy="489.0" r="0.95" fill="#8a8a8a" fill-opacity="0.8"/>
<circle cx="257.3" cy="490.3" r="0.95" fill="#8a8a8a" fill-opacity="0.8"/>
<circle cx="259.9" cy="489.0" r="0.95" fill="#8a8a8a" fill-opacity="0.8"/>
<circle cx="263.8" cy="485.1" r="0.95" fill="#8a8a8a" fill-opacity="0.8"/>
<circle cx="266.4" cy="486.4" r="0.95" fill="#8a8a8a" fill-opacity="0.8"/>
<circle cx="265.1" cy="489.0" r="0.95" fill="#8a8a8a" fill-opacity="0.8"/>
<circle cx="267.8" cy="487.7" r="0.95" fill="#8a8a8a" fill-opacity="0.8"/>
<circle cx="269.1" cy="490.3" r="0.95" fill="#8a8a8a" fill-opacity="0.8"/>
<circle cx="266.4" cy="491.6" r="0.95" fill="#8a8a8a" fill-opacity="0.8"/>
<circle cx="270.4" cy="491.6" r="0.95" fill="#8a8a8a" fill-opacity="0.8"/>
<circle cx="271.7" cy="489.0" r="0.95" fill="#8a8a8a" fill-opacity="0.8"/>
<circle cx="273.0" cy="491.1" r="0.95" fill="#8a8a8a" fill-opacity="0.8"/>
<circle cx="274.3" cy="487.7" r="0.95" fill="#8a8a8a" fill-opacity="0.8"/>
<circle cx="269.1" cy="493.0" r="0.95" fill="#8a8a8a" fill-opacity="0.8"/>
<circle cx="271.7" cy="493.7" r="0.95" fill="#8a8a8a" fill-opacity="0.8"/>
<circle cx="265.1" cy="493.7" r="0.95" fill="#8a8a8a" fill-opacity="0.8"/>
<circle cx="267.2" cy="494.3" r="0.95" fill="#8a8a8a" fill-opacity="0.8"/>
<circle cx="274.3" cy="492.2" r="0.95" fill="#8a8a8a" fill-opacity="0.8"/>
<circle cx="275.6" cy="490.3" r="0.95" fill="#8a8a8a" fill-opacity="0.8"/>
<circle cx="276.9" cy="486.4" r="0.95" fill="#8a8a8a" fill-opacity="0.8"/>
<circle cx="278.2" cy="489.0" r="0.95" fill="#8a8a8a" fill-opacity="0.8"/>
<circle cx="279.5" cy="485.1" r="0.95" fill="#8a8a8a" fill-opacity="0.8"/>
<circle cx="270.4" cy="483.8" r="0.95" fill="#8a8a8a" fill-opacity="0.8"/>
<circle cx="271.7" cy="479.9" r="0.95" fill="#8a8a8a" fill-opacity="0.8"/>
<circle cx="274.3" cy="478.6" r="0.95" fill="#8a8a8a" fill-opacity="0.8"/>
<circle cx="276.9" cy="481.2" r="0.95" fill="#8a8a8a" fill-opacity="0.8"/>
<circle cx="267.8" cy="481.2" r="0.95" fill="#8a8a8a" fill-opacity="0.8"/>
<circle cx="263.8" cy="490.3" r="0.95" fill="#8a8a8a" fill-opacity="0.8"/>
<circle cx="277.7" cy="492.2" r="0.95" fill="#8a8a8a" fill-opacity="0.8"/>
<circle cx="279.5" cy="487.7" r="0.95" fill="#8a8a8a" fill-opacity="0.8"/>
<circle cx="280.8" cy="490.3" r="0.95" fill="#8a8a8a" fill-opacity="0.8"/>
<circle cx="280.8" cy="474.6" r="0.95" fill="#8a8a8a" fill-opacity="0.8"/>
<circle cx="282.2" cy="470.7" r="0.95" fill="#8a8a8a" fill-opacity="0.8"/>
<circle cx="283.5" cy="469.4" r="0.95" fill="#8a8a8a" fill-opacity="0.8"/>
<circle cx="280.3" cy="477.2" r="0.95" fill="#8a8a8a" fill-opacity="0.8"/>
<circle cx="282.2" cy="478.6" r="0.95" fill="#8a8a8a" fill-opacity="0.8"/>
<circle cx="285.6" cy="472.0" r="0.95" fill="#8a8a8a" fill-opacity="0.8"/>
<circle cx="283.5" cy="466.8" r="0.95" fill="#8a8a8a" fill-opacity="0.8"/>
<circle cx="284.8" cy="462.1" r="0.95" fill="#8a8a8a" fill-opacity="0.8"/>
<circle cx="286.6" cy="461.5" r="0.95" fill="#8a8a8a" fill-opacity="0.8"/>
<circle cx="290.0" cy="462.8" r="0.95" fill="#8a8a8a" fill-opacity="0.8"/>
<circle cx="288.7" cy="464.2" r="0.95" fill="#8a8a8a" fill-opacity="0.8"/>
<circle cx="290.8" cy="460.7" r="0.95" fill="#8a8a8a" fill-opacity="0.8"/>
<circle cx="292.6" cy="458.9" r="0.95" fill="#8a8a8a" fill-opacity="0.8"/>
<circle cx="288.7" cy="457.1" r="0.95" fill="#8a8a8a" fill-opacity="0.8"/>
<circle cx="289.2" cy="451.8" r="0.95" fill="#8a8a8a" fill-opacity="0.8"/>
<circle cx="292.6" cy="446.6" r="0.95" fill="#8a8a8a" fill-opacity="0.8"/>
<circle cx="295.8" cy="438.0" r="0.95" fill="#8a8a8a" fill-opacity="0.8"/>
<circle cx="297.1" cy="434.6" r="0.95" fill="#8a8a8a" fill-opacity="0.8"/>
<circle cx="301.3" cy="431.9" r="0.95" fill="#8a8a8a" fill-opacity="0.8"/>
<circle cx="301.8" cy="458.1" r="0.95" fill="#8a8a8a" fill-opacity="0.8"/>
<circle cx="303.1" cy="460.7" r="0.95" fill="#8a8a8a" fill-opacity="0.8"/>
<circle cx="317.5" cy="450.3" r="0.95" fill="#8a8a8a" fill-opacity="0.8"/>
<circle cx="301.8" cy="473.3" r="0.95" fill="#8a8a8a" fill-opacity="0.8"/>
<circle cx="302.3" cy="478.6" r="0.95" fill="#8a8a8a" fill-opacity="0.8"/>
<circle cx="288.2" cy="483.8" r="0.95" fill="#8a8a8a" fill-opacity="0.8"/>
<circle cx="283.5" cy="486.4" r="0.95" fill="#8a8a8a" fill-opacity="0.8"/>
<circle cx="285.6" cy="489.6" r="0.95" fill="#8a8a8a" fill-opacity="0.8"/>
<circle cx="289.2" cy="490.3" r="0.95" fill="#8a8a8a" fill-opacity="0.8"/>
<circle cx="308.3" cy="491.1" r="0.95" fill="#8a8a8a" fill-opacity="0.8"/>
<circle cx="353.6" cy="490.3" r="0.95" fill="#8a8a8a" fill-opacity="0.8"/>
<circle cx="286.6" cy="465.5" r="0.95" fill="#8a8a8a" fill-opacity="0.8"/>
<circle cx="280.8" cy="481.2" r="0.95" fill="#8a8a8a" fill-opacity="0.8"/>
<circle cx="262.5" cy="487.7" r="0.95" fill="#8a8a8a" fill-opacity="0.8"/>
<circle cx="264.6" cy="491.6" r="0.95" fill="#8a8a8a" fill-opacity="0.8"/>
<circle cx="268.3" cy="492.2" r="0.95" fill="#8a8a8a" fill-opacity="0.8"/>
<circle cx="269.8" cy="489.0" r="0.95" fill="#8a8a8a" fill-opacity="0.8"/>
<circle cx="272.5" cy="493.0" r="0.95" fill="#8a8a8a" fill-opacity="0.8"/>
<circle cx="273.5" cy="489.6" r="0.95" fill="#8a8a8a" fill-opacity="0.8"/>
<circle cx="276.1" cy="488.5" r="0.95" fill="#8a8a8a" fill-opacity="0.8"/>
<circle cx="261.2" cy="490.3" r="0.95" fill="#8a8a8a" fill-opacity="0.8"/>
<circle cx="258.6" cy="487.7" r="0.95" fill="#8a8a8a" fill-opacity="0.8"/>
<circle cx="312.8" cy="400.8" r="1.1" fill="#bfe0f9" fill-opacity="1"/>
<circle cx="300.0" cy="416.2" r="1.1" fill="#bfe0f9" fill-opacity="1"/>
<circle cx="321.4" cy="420.9" r="1.1" fill="#bfe0f9" fill-opacity="1"/>
<circle cx="343.9" cy="416.5" r="1.1" fill="#bfe0f9" fill-opacity="1"/>
<circle cx="298.9" cy="427.0" r="1.1" fill="#bfe0f9" fill-opacity="1"/>
<circle cx="324.9" cy="358.9" r="1.1" fill="#bfe0f9"/>
<circle cx="312.4" cy="400.9" r="1.1" fill="#bfe0f9"/>
<circle cx="231.1" cy="430.1" r="1.1" fill="#f7aaa6" fill-opacity="1"/>
<circle cx="238.9" cy="428.0" r="1.1" fill="#f7aaa6" fill-opacity="1"/>
<line x1="393.50" y1="350.90" x2="393.50" y2="501.50" stroke="#000" stroke-width="1.0"/>
<line x1="393.00" y1="501.50" x2="527.50" y2="501.50" stroke="#000" stroke-width="1.0"/>
<line x1="412.50" y1="501.50" x2="412.50" y2="503.20" stroke="#000" stroke-width="0.6"/>
<text x="412.50" y="508.60" font-size="6.0" font-weight="bold" text-anchor="middle" fill="#000" transform="rotate(0.03 412.50 508.60)" stroke="#000" stroke-width="0.12">−2</text>
<line x1="441.90" y1="501.50" x2="441.90" y2="503.20" stroke="#000" stroke-width="0.6"/>
<text x="441.90" y="508.60" font-size="6.0" font-weight="bold" text-anchor="middle" fill="#000" transform="rotate(0.03 441.90 508.60)" stroke="#000" stroke-width="0.12">−1</text>
<line x1="470.20" y1="501.50" x2="470.20" y2="503.20" stroke="#000" stroke-width="0.6"/>
<text x="470.20" y="508.60" font-size="6.0" font-weight="bold" text-anchor="middle" fill="#000" transform="rotate(0.03 470.20 508.60)" stroke="#000" stroke-width="0.12">0</text>
<line x1="498.90" y1="501.50" x2="498.90" y2="503.20" stroke="#000" stroke-width="0.6"/>
<text x="498.90" y="508.60" font-size="6.0" font-weight="bold" text-anchor="middle" fill="#000" transform="rotate(0.03 498.90 508.60)" stroke="#000" stroke-width="0.12">1</text>
<line x1="391.80" y1="351.90" x2="393.50" y2="351.90" stroke="#000" stroke-width="0.6"/>
<text x="390.60" y="354.00" font-size="6.0" font-weight="bold" text-anchor="end" fill="#000" transform="rotate(0.03 390.60 354.00)" stroke="#000" stroke-width="0.12">2.5</text>
<line x1="391.80" y1="380.30" x2="393.50" y2="380.30" stroke="#000" stroke-width="0.6"/>
<text x="390.60" y="382.40" font-size="6.0" font-weight="bold" text-anchor="end" fill="#000" transform="rotate(0.03 390.60 382.40)" stroke="#000" stroke-width="0.12">2.0</text>
<line x1="391.80" y1="409.30" x2="393.50" y2="409.30" stroke="#000" stroke-width="0.6"/>
<text x="390.60" y="411.40" font-size="6.0" font-weight="bold" text-anchor="end" fill="#000" transform="rotate(0.03 390.60 411.40)" stroke="#000" stroke-width="0.12">1.5</text>
<line x1="391.80" y1="437.60" x2="393.50" y2="437.60" stroke="#000" stroke-width="0.6"/>
<text x="390.60" y="439.70" font-size="6.0" font-weight="bold" text-anchor="end" fill="#000" transform="rotate(0.03 390.60 439.70)" stroke="#000" stroke-width="0.12">1.0</text>
<line x1="391.80" y1="465.90" x2="393.50" y2="465.90" stroke="#000" stroke-width="0.6"/>
<text x="390.60" y="468.00" font-size="6.0" font-weight="bold" text-anchor="end" fill="#000" transform="rotate(0.03 390.60 468.00)" stroke="#000" stroke-width="0.12">0.5</text>
<line x1="391.80" y1="494.60" x2="393.50" y2="494.60" stroke="#000" stroke-width="0.6"/>
<text x="390.60" y="496.70" font-size="6.0" font-weight="bold" text-anchor="end" fill="#000" transform="rotate(0.03 390.60 496.70)" stroke="#000" stroke-width="0.12">0.0</text>
<line x1="453.30" y1="350.90" x2="453.30" y2="501.50" stroke="#999" stroke-width="0.5" stroke-dasharray="1 1"/>
<line x1="486.80" y1="350.90" x2="486.80" y2="501.50" stroke="#999" stroke-width="0.5" stroke-dasharray="1 1"/>
<line x1="393.50" y1="420.30" x2="527.50" y2="420.30" stroke="#f57c7c" stroke-width="0.5" stroke-dasharray="0.7 0.6"/>
<text x="460.30" y="346.80" font-size="8.35" font-weight="bold" text-anchor="middle" fill="#000" transform="rotate(0.03 460.30 346.80)">Cataracts vs. Glaucoma</text>
<text x="376.70" y="426.30" font-size="7.2" text-anchor="middle" fill="#222" transform="rotate(-90 376.70 426.30)">− log<tspan font-size="4.90" dy="1.4">10</tspan><tspan dy="-1.4"> p − value</tspan></text>
<text x="460.20" y="518.00" font-size="7.42" text-anchor="middle" fill="#222">Log<tspan font-size="5.05" dy="1.4">2</tspan><tspan dy="-1.4"> Ratio Glaucoma</tspan><tspan font-size="8.31">/</tspan>Cataracts</text>
<text x="435.30" y="391.30" font-size="4.45" font-weight="bold" text-anchor="middle" fill="#000" transform="rotate(0.03 435.30 391.30)" stroke="#000" stroke-width="0.12">N=13</text>
<text x="504.40" y="391.30" font-size="4.45" font-weight="bold" text-anchor="middle" fill="#000" transform="rotate(0.03 504.40 391.30)" stroke="#000" stroke-width="0.12">N=3</text>
<circle cx="428.7" cy="422.9" r="0.95" fill="#8a8a8a" fill-opacity="0.8"/>
<circle cx="445.2" cy="430.5" r="0.95" fill="#8a8a8a" fill-opacity="0.8"/>
<circle cx="444.7" cy="433.8" r="0.95" fill="#8a8a8a" fill-opacity="0.8"/>
<circle cx="414.7" cy="440.7" r="0.95" fill="#8a8a8a" fill-opacity="0.8"/>
<circle cx="449.8" cy="441.5" r="0.95" fill="#8a8a8a" fill-opacity="0.8"/>
<circle cx="444.7" cy="443.8" r="0.95" fill="#8a8a8a" fill-opacity="0.8"/>
<circle cx="450.6" cy="446.3" r="0.95" fill="#8a8a8a" fill-opacity="0.8"/>
<circle cx="421.0" cy="454.7" r="0.95" fill="#8a8a8a" fill-opacity="0.8"/>
<circle cx="430.7" cy="456.7" r="0.95" fill="#8a8a8a" fill-opacity="0.8"/>
<circle cx="447.3" cy="455.5" r="0.95" fill="#8a8a8a" fill-opacity="0.8"/>
<circle cx="450.3" cy="454.7" r="0.95" fill="#8a8a8a" fill-opacity="0.8"/>
<circle cx="454.9" cy="452.9" r="0.95" fill="#8a8a8a" fill-opacity="0.8"/>
<circle cx="447.3" cy="458.5" r="0.95" fill="#8a8a8a" fill-opacity="0.8"/>
<circle cx="449.0" cy="458.0" r="0.95" fill="#8a8a8a" fill-opacity="0.8"/>
<circle cx="453.6" cy="456.5" r="0.95" fill="#8a8a8a" fill-opacity="0.8"/>
<circle cx="452.3" cy="462.3" r="0.95" fill="#8a8a8a" fill-opacity="0.8"/>
<circle cx="454.9" cy="463.1" r="0.95" fill="#8a8a8a" fill-opacity="0.8"/>
<circle cx="457.4" cy="462.3" r="0.95" fill="#8a8a8a" fill-opacity="0.8"/>
<circle cx="461.2" cy="460.6" r="0.95" fill="#8a8a8a" fill-opacity="0.8"/>
<circle cx="399.4" cy="469.2" r="0.95" fill="#8a8a8a" fill-opacity="0.8"/>
<circle cx="443.4" cy="470.0" r="0.95" fill="#8a8a8a" fill-opacity="0.8"/>
<circle cx="448.5" cy="466.7" r="0.95" fill="#8a8a8a" fill-opacity="0.8"/>
<circle cx="455.6" cy="468.7" r="0.95" fill="#8a8a8a" fill-opacity="0.8"/>
<circle cx="457.4" cy="470.0" r="0.95" fill="#8a8a8a" fill-opacity="0.8"/>
<circle cx="458.7" cy="471.8" r="0.95" fill="#8a8a8a" fill-opacity="0.8"/>
<circle cx="438.3" cy="475.6" r="0.95" fill="#8a8a8a" fill-opacity="0.8"/>
<circle cx="448.0" cy="477.6" r="0.95" fill="#8a8a8a" fill-opacity="0.8"/>
<circle cx="454.1" cy="475.1" r="0.95" fill="#8a8a8a" fill-opacity="0.8"/>
<circle cx="455.6" cy="476.3" r="0.95" fill="#8a8a8a" fill-opacity="0.8"/>
<circle cx="458.7" cy="475.1" r="0.95" fill="#8a8a8a" fill-opacity="0.8"/>
<circle cx="460.0" cy="477.6" r="0.95" fill="#8a8a8a" fill-opacity="0.8"/>
<circle cx="453.6" cy="478.9" r="0.95" fill="#8a8a8a" fill-opacity="0.8"/>
<circle cx="457.4" cy="479.4" r="0.95" fill="#8a8a8a" fill-opacity="0.8"/>
<circle cx="461.2" cy="480.2" r="0.95" fill="#8a8a8a" fill-opacity="0.8"/>
<circle cx="448.5" cy="482.7" r="0.95" fill="#8a8a8a" fill-opacity="0.8"/>
<circle cx="449.8" cy="487.8" r="0.95" fill="#8a8a8a" fill-opacity="0.8"/>
<circle cx="454.9" cy="484.0" r="0.95" fill="#8a8a8a" fill-opacity="0.8"/>
<circle cx="458.7" cy="482.7" r="0.95" fill="#8a8a8a" fill-opacity="0.8"/>
<circle cx="462.5" cy="481.4" r="0.95" fill="#8a8a8a" fill-opacity="0.8"/>
<circle cx="465.1" cy="478.9" r="0.95" fill="#8a8a8a" fill-opacity="0.8"/>
<circle cx="467.6" cy="482.7" r="0.95" fill="#8a8a8a" fill-opacity="0.8"/>
<circle cx="470.2" cy="477.6" r="0.95" fill="#8a8a8a" fill-opacity="0.8"/>
<circle cx="472.7" cy="480.2" r="0.95" fill="#8a8a8a" fill-opacity="0.8"/>
<circle cx="460.0" cy="485.2" r="0.95" fill="#8a8a8a" fill-opacity="0.8"/>
<circle cx="462.5" cy="486.5" r="0.95" fill="#8a8a8a" fill-opacity="0.8"/>
<circle cx="465.1" cy="485.2" r="0.95" fill="#8a8a8a" fill-opacity="0.8"/>
<circle cx="461.2" cy="489.1" r="0.95" fill="#8a8a8a" fill-opacity="0.8"/>
<circle cx="463.8" cy="489.6" r="0.95" fill="#8a8a8a" fill-opacity="0.8"/>
<circle cx="466.3" cy="487.8" r="0.95" fill="#8a8a8a" fill-opacity="0.8"/>
<circle cx="468.9" cy="486.5" r="0.95" fill="#8a8a8a" fill-opacity="0.8"/>
<circle cx="471.4" cy="485.2" r="0.95" fill="#8a8a8a" fill-opacity="0.8"/>
<circle cx="474.0" cy="482.7" r="0.95" fill="#8a8a8a" fill-opacity="0.8"/>
<circle cx="476.5" cy="477.6" r="0.95" fill="#8a8a8a" fill-opacity="0.8"/>
<circle cx="477.8" cy="475.1" r="0.95" fill="#8a8a8a" fill-opacity="0.8"/>
<circle cx="479.1" cy="478.9" r="0.95" fill="#8a8a8a" fill-opacity="0.8"/>
<circle cx="480.3" cy="481.4" r="0.95" fill="#8a8a8a" fill-opacity="0.8"/>
<circle cx="476.5" cy="484.0" r="0.95" fill="#8a8a8a" fill-opacity="0.8"/>
<circle cx="466.3" cy="491.1" r="0.95" fill="#8a8a8a" fill-opacity="0.8"/>
<circle cx="468.9" cy="492.1" r="0.95" fill="#8a8a8a" fill-opacity="0.8"/>
<circle cx="470.9" cy="492.9" r="0.95" fill="#8a8a8a" fill-opacity="0.8"/>
<circle cx="472.7" cy="491.6" r="0.95" fill="#8a8a8a" fill-opacity="0.8"/>
<circle cx="467.6" cy="493.6" r="0.95" fill="#8a8a8a" fill-opacity="0.8"/>
<circle cx="470.2" cy="494.1" r="0.95" fill="#8a8a8a" fill-opacity="0.8"/>
<circle cx="472.7" cy="493.6" r="0.95" fill="#8a8a8a" fill-opacity="0.8"/>
<circle cx="474.0" cy="489.1" r="0.95" fill="#8a8a8a" fill-opacity="0.8"/>
<circle cx="477.8" cy="489.1" r="0.95" fill="#8a8a8a" fill-opacity="0.8"/>
<circle cx="479.1" cy="468.7" r="0.95" fill="#8a8a8a" fill-opacity="0.8"/>
<circle cx="480.3" cy="467.4" r="0.95" fill="#8a8a8a" fill-opacity="0.8"/>
<circle cx="482.9" cy="465.6" r="0.95" fill="#8a8a8a" fill-opacity="0.8"/>
<circle cx="485.4" cy="468.7" r="0.95" fill="#8a8a8a" fill-opacity="0.8"/>
<circle cx="486.7" cy="475.1" r="0.95" fill="#8a8a8a" fill-opacity="0.8"/>
<circle cx="488.0" cy="481.4" r="0.95" fill="#8a8a8a" fill-opacity="0.8"/>
<circle cx="482.1" cy="481.4" r="0.95" fill="#8a8a8a" fill-opacity="0.8"/>
<circle cx="486.7" cy="487.8" r="0.95" fill="#8a8a8a" fill-opacity="0.8"/>
<circle cx="482.9" cy="450.4" r="0.95" fill="#8a8a8a" fill-opacity="0.8"/>
<circle cx="484.1" cy="454.2" r="0.95" fill="#8a8a8a" fill-opacity="0.8"/>
<circle cx="487.5" cy="455.2" r="0.95" fill="#8a8a8a" fill-opacity="0.8"/>
<circle cx="492.3" cy="456.5" r="0.95" fill="#8a8a8a" fill-opacity="0.8"/>
<circle cx="493.1" cy="461.1" r="0.95" fill="#8a8a8a" fill-opacity="0.8"/>
<circle cx="495.6" cy="461.1" r="0.95" fill="#8a8a8a" fill-opacity="0.8"/>
<circle cx="491.8" cy="468.7" r="0.95" fill="#8a8a8a" fill-opacity="0.8"/>
<circle cx="490.5" cy="475.8" r="0.95" fill="#8a8a8a" fill-opacity="0.8"/>
<circle cx="493.1" cy="475.1" r="0.95" fill="#8a8a8a" fill-opacity="0.8"/>
<circle cx="491.8" cy="480.9" r="0.95" fill="#8a8a8a" fill-opacity="0.8"/>
<circle cx="496.9" cy="478.9" r="0.95" fill="#8a8a8a" fill-opacity="0.8"/>
<circle cx="494.3" cy="487.0" r="0.95" fill="#8a8a8a" fill-opacity="0.8"/>
<circle cx="498.1" cy="486.5" r="0.95" fill="#8a8a8a" fill-opacity="0.8"/>
<circle cx="496.4" cy="425.4" r="0.95" fill="#8a8a8a" fill-opacity="0.8"/>
<circle cx="496.9" cy="431.3" r="0.95" fill="#8a8a8a" fill-opacity="0.8"/>
<circle cx="495.6" cy="437.4" r="0.95" fill="#8a8a8a" fill-opacity="0.8"/>
<circle cx="502.0" cy="436.9" r="0.95" fill="#8a8a8a" fill-opacity="0.8"/>
<circle cx="498.9" cy="439.4" r="0.95" fill="#8a8a8a" fill-opacity="0.8"/>
<circle cx="493.6" cy="442.0" r="0.95" fill="#8a8a8a" fill-opacity="0.8"/>
<circle cx="503.7" cy="448.3" r="0.95" fill="#8a8a8a" fill-opacity="0.8"/>
<circle cx="496.9" cy="454.2" r="0.95" fill="#8a8a8a" fill-opacity="0.8"/>
<circle cx="513.9" cy="459.0" r="0.95" fill="#8a8a8a" fill-opacity="0.8"/>
<circle cx="514.7" cy="470.7" r="0.95" fill="#8a8a8a" fill-opacity="0.8"/>
<circle cx="519.8" cy="471.2" r="0.95" fill="#8a8a8a" fill-opacity="0.8"/>
<circle cx="513.9" cy="489.6" r="0.95" fill="#8a8a8a" fill-opacity="0.8"/>
<circle cx="469.4" cy="489.6" r="0.95" fill="#8a8a8a" fill-opacity="0.8"/>
<circle cx="471.9" cy="488.5" r="0.95" fill="#8a8a8a" fill-opacity="0.8"/>
<circle cx="468.4" cy="490.3" r="0.95" fill="#8a8a8a" fill-opacity="0.8"/>
<circle cx="465.3" cy="489.1" r="0.95" fill="#8a8a8a" fill-opacity="0.8"/>
<circle cx="471.4" cy="491.1" r="0.95" fill="#8a8a8a" fill-opacity="0.8"/>
<circle cx="411.7" cy="358.7" r="1.1" fill="#f7aaa6"/>
<circle cx="429.9" cy="370.1" r="1.1" fill="#f7aaa6"/>
<circle cx="432.8" cy="374.7" r="1.1" fill="#f7aaa6"/>
<circle cx="412.9" cy="398.7" r="1.1" fill="#f7aaa6"/>
<circle cx="414.0" cy="403.8" r="1.1" fill="#f7aaa6"/>
<circle cx="423.8" cy="405.0" r="1.1" fill="#f7aaa6"/>
<circle cx="434.2" cy="399.8" r="1.1" fill="#f7aaa6"/>
<circle cx="427.3" cy="410.7" r="1.1" fill="#f7aaa6"/>
<circle cx="437.7" cy="409.0" r="1.1" fill="#f7aaa6"/>
<circle cx="422.4" cy="414.7" r="1.1" fill="#f7aaa6"/>
<circle cx="426.4" cy="414.1" r="1.1" fill="#f7aaa6"/>
<circle cx="439.7" cy="416.4" r="1.1" fill="#f7aaa6"/>
<circle cx="438.8" cy="411.2" r="1.1" fill="#f7aaa6"/>
<circle cx="510.8" cy="361.0" r="1.1" fill="#bfe0f9"/>
<circle cx="521.2" cy="393.5" r="1.1" fill="#bfe0f9"/>
<circle cx="507.9" cy="414.7" r="1.1" fill="#bfe0f9"/>
<circle cx="242.2" cy="532.6" r="3.7" fill="#f6a9a4" stroke="#d9807a" stroke-width="0.6"/>
<text x="250.80" y="534.70" font-size="5.95" font-weight="bold" text-anchor="start" fill="#000" transform="rotate(0.03 250.80 534.70)">Downregulated</text>
<circle cx="305.0" cy="532.6" r="3.7" fill="#62d3d6" stroke="#35a7ab" stroke-width="0.6"/>
<text x="313.20" y="534.70" font-size="5.95" font-weight="bold" text-anchor="start" fill="#000" transform="rotate(0.03 313.20 534.70)">Upregulated</text>
</g>
<g id="panelD">
<ellipse cx="134.35" cy="649.53" rx="76.0" ry="40.0" fill="#0a650a" fill-opacity="0.62" transform="rotate(25 134.35 649.53)"/>
<ellipse cx="142.59" cy="630.35" rx="76.0" ry="40.0" fill="#468cd2" fill-opacity="0.5" transform="rotate(99 142.59 630.35)"/>
<ellipse cx="160.31" cy="634.77" rx="76.0" ry="40.0" fill="#eb4155" fill-opacity="0.5" transform="rotate(171 160.31 634.77)"/>
<ellipse cx="163.81" cy="652.58" rx="76.0" ry="40.0" fill="#c3c819" fill-opacity="0.5" transform="rotate(243 163.81 652.58)"/>
<ellipse cx="146.86" cy="660.31" rx="76.0" ry="40.0" fill="#fa7305" fill-opacity="0.5" transform="rotate(315 146.86 660.31)"/>
<rect x="16.0" y="577.3" width="68.9" height="21.8" fill="#fff" stroke="#6db36d" stroke-width="0.7"/>
<text x="50.40" y="586.70" font-size="6.3" text-anchor="middle" fill="#6db36d" transform="rotate(0.03 50.40 586.70)">Downregulated</text>
<text x="50.40" y="594.00" font-size="6.3" text-anchor="middle" fill="#6db36d" transform="rotate(0.03 50.40 594.00)">Glaucoma/ICL</text>
<rect x="176.5" y="549.6" width="59.3" height="22.7" fill="#fff" stroke="#5b9ee0" stroke-width="0.7"/>
<text x="205.90" y="559.80" font-size="6.3" text-anchor="middle" fill="#5b9ee0" transform="rotate(0.03 205.90 559.80)">Downregulated</text>
<text x="205.90" y="567.20" font-size="6.3" text-anchor="middle" fill="#5b9ee0" transform="rotate(0.03 205.90 567.20)">Cataracts/ICL</text>
<rect x="236.4" y="594.5" width="59.3" height="21.9" fill="#fff" stroke="#f58d9a" stroke-width="0.7"/>
<text x="265.60" y="603.80" font-size="6.3" text-anchor="middle" fill="#f58d9a" transform="rotate(0.03 265.60 603.80)">Upregulated</text>
<text x="265.60" y="611.00" font-size="6.3" text-anchor="middle" fill="#f58d9a" transform="rotate(0.03 265.60 611.00)">Cataracts/ICL</text>
<rect x="216.0" y="699.6" width="77.6" height="22.4" fill="#fff" stroke="#b9c040" stroke-width="0.7"/>
<text x="254.70" y="709.40" font-size="6.3" text-anchor="middle" fill="#b9c040" transform="rotate(0.03 254.70 709.40)">Downregulated</text>
<text x="254.70" y="716.60" font-size="6.3" text-anchor="middle" fill="#b9c040" transform="rotate(0.03 254.70 716.60)">Glaucoma/Cataracts</text>
<rect x="6.4" y="701.3" width="77.6" height="22.9" fill="#fff" stroke="#f9933c" stroke-width="0.7"/>
<text x="44.90" y="711.80" font-size="6.3" text-anchor="middle" fill="#f9933c" transform="rotate(0.03 44.90 711.80)">Upregulated</text>
<text x="44.90" y="718.60" font-size="6.3" text-anchor="middle" fill="#f9933c" transform="rotate(0.03 44.90 718.60)">Glaucoma/Cataracts</text>
<text x="149.80" y="571.60" font-size="4.6" font-weight="bold" text-anchor="middle" fill="#111" transform="rotate(0.03 149.80 571.60)" stroke="#111" stroke-width="0.1">1</text>
<text x="137.10" y="593.40" font-size="4.6" font-weight="bold" text-anchor="middle" fill="#111" transform="rotate(0.03 137.10 593.40)" stroke="#111" stroke-width="0.1">0</text>
<text x="112.00" y="606.90" font-size="4.6" font-weight="bold" text-anchor="middle" fill="#111" transform="rotate(0.03 112.00 606.90)" stroke="#111" stroke-width="0.1">0</text>
<text x="118.20" y="606.10" font-size="4.6" font-weight="bold" text-anchor="middle" fill="#111" transform="rotate(0.03 118.20 606.10)" stroke="#111" stroke-width="0.1">0</text>
<text x="148.00" y="605.10" font-size="4.6" font-weight="bold" text-anchor="middle" fill="#111" transform="rotate(0.03 148.00 605.10)" stroke="#111" stroke-width="0.1">0</text>
<text x="176.40" y="598.10" font-size="4.6" font-weight="bold" text-anchor="middle" fill="#111" transform="rotate(0.03 176.40 598.10)" stroke="#111" stroke-width="0.1">0</text>
<text x="180.00" y="602.60" font-size="4.6" font-weight="bold" text-anchor="middle" fill="#111" transform="rotate(0.03 180.00 602.60)" stroke="#111" stroke-width="0.1">0</text>
<text x="125.50" y="617.10" font-size="4.6" font-weight="bold" text-anchor="middle" fill="#111" transform="rotate(0.03 125.50 617.10)" stroke="#111" stroke-width="0.1">0</text>
<text x="168.00" y="614.10" font-size="4.6" font-weight="bold" text-anchor="middle" fill="#111" transform="rotate(0.03 168.00 614.10)" stroke="#111" stroke-width="0.1">0</text>
<text x="197.50" y="617.10" font-size="4.6" font-weight="bold" text-anchor="middle" fill="#111" transform="rotate(0.03 197.50 617.10)" stroke="#111" stroke-width="0.1">0</text>
<text x="80.00" y="620.60" font-size="4.6" font-weight="bold" text-anchor="middle" fill="#111" transform="rotate(0.03 80.00 620.60)" stroke="#111" stroke-width="0.1">3</text>
<text x="220.70" y="626.10" font-size="4.6" font-weight="bold" text-anchor="middle" fill="#111" transform="rotate(0.03 220.70 626.10)" stroke="#111" stroke-width="0.1">4</text>
<text x="109.00" y="631.60" font-size="4.6" font-weight="bold" text-anchor="middle" fill="#111" transform="rotate(0.03 109.00 631.60)" stroke="#111" stroke-width="0.1">0</text>
<text x="191.60" y="634.60" font-size="4.6" font-weight="bold" text-anchor="middle" fill="#111" transform="rotate(0.03 191.60 634.60)" stroke="#111" stroke-width="0.1">0</text>
<text x="94.50" y="641.40" font-size="4.6" font-weight="bold" text-anchor="middle" fill="#111" transform="rotate(0.03 94.50 641.40)" stroke="#111" stroke-width="0.1">0</text>
<text x="150.20" y="646.10" font-size="4.6" font-weight="bold" text-anchor="middle" fill="#111" transform="rotate(0.03 150.20 646.10)" stroke="#111" stroke-width="0.1">0</text>
<text x="205.50" y="655.20" font-size="4.6" font-weight="bold" text-anchor="middle" fill="#111" transform="rotate(0.03 205.50 655.20)" stroke="#111" stroke-width="0.1">2</text>
<text x="185.50" y="658.10" font-size="4.6" font-weight="bold" text-anchor="middle" fill="#111" transform="rotate(0.03 185.50 658.10)" stroke="#111" stroke-width="0.1">0</text>
<text x="201.00" y="660.60" font-size="4.6" font-weight="bold" text-anchor="middle" fill="#111" transform="rotate(0.03 201.00 660.60)" stroke="#111" stroke-width="0.1">0</text>
<text x="114.50" y="660.00" font-size="4.6" font-weight="bold" text-anchor="middle" fill="#111" transform="rotate(0.03 114.50 660.00)" stroke="#111" stroke-width="0.1">0</text>
<text x="100.70" y="665.10" font-size="4.6" font-weight="bold" text-anchor="middle" fill="#111" transform="rotate(0.03 100.70 665.10)" stroke="#111" stroke-width="0.1">0</text>
<text x="100.00" y="671.60" font-size="4.6" font-weight="bold" text-anchor="middle" fill="#111" transform="rotate(0.03 100.00 671.60)" stroke="#111" stroke-width="0.1">0</text>
<text x="120.70" y="680.00" font-size="4.6" font-weight="bold" text-anchor="middle" fill="#111" transform="rotate(0.03 120.70 680.00)" stroke="#111" stroke-width="0.1">0</text>
<text x="174.50" y="683.20" font-size="4.6" font-weight="bold" text-anchor="middle" fill="#111" transform="rotate(0.03 174.50 683.20)" stroke="#111" stroke-width="0.1">0</text>
<text x="193.50" y="681.40" font-size="4.6" font-weight="bold" text-anchor="middle" fill="#111" transform="rotate(0.03 193.50 681.40)" stroke="#111" stroke-width="0.1">2</text>
<text x="152.70" y="687.20" font-size="4.6" font-weight="bold" text-anchor="middle" fill="#111" transform="rotate(0.03 152.70 687.20)" stroke="#111" stroke-width="0.1">0</text>
<text x="130.20" y="700.00" font-size="4.6" font-weight="bold" text-anchor="middle" fill="#111" transform="rotate(0.03 130.20 700.00)" stroke="#111" stroke-width="0.1">1</text>
<text x="151.00" y="698.10" font-size="4.6" font-weight="bold" text-anchor="middle" fill="#111" transform="rotate(0.03 151.00 698.10)" stroke="#111" stroke-width="0.1">0</text>
<text x="156.40" y="701.40" font-size="4.6" font-weight="bold" text-anchor="middle" fill="#111" transform="rotate(0.03 156.40 701.40)" stroke="#111" stroke-width="0.1">0</text>
<text x="103.60" y="711.60" font-size="4.6" font-weight="bold" text-anchor="middle" fill="#111" transform="rotate(0.03 103.60 711.60)" stroke="#111" stroke-width="0.1">2</text>
<text x="193.50" y="711.60" font-size="4.6" font-weight="bold" text-anchor="middle" fill="#111" transform="rotate(0.03 193.50 711.60)" stroke="#111" stroke-width="0.1">9</text>
</g>
<g id="panelF">
<line x1="349.75" y1="578.93" x2="348.85" y2="611.53" stroke="#c6dc4a" stroke-width="1.05"/>
<line x1="348.80" y1="578.90" x2="347.90" y2="611.50" stroke="#7c8494" stroke-width="0.8925"/>
<line x1="347.85" y1="578.87" x2="346.95" y2="611.47" stroke="#e27be0" stroke-width="1.05"/>
<line x1="383.73" y1="577.34" x2="348.23" y2="611.84" stroke="#7c8494" stroke-width="0.8925"/>
<line x1="383.07" y1="576.66" x2="347.57" y2="611.16" stroke="#c6dc4a" stroke-width="1.05"/>
<line x1="383.88" y1="577.00" x2="383.88" y2="604.90" stroke="#c6dc4a" stroke-width="1.05"/>
<line x1="382.92" y1="577.00" x2="382.92" y2="604.90" stroke="#7c8494" stroke-width="0.8925"/>
<line x1="384.05" y1="576.30" x2="423.95" y2="613.30" stroke="#c6dc4a" stroke-width="1.05"/>
<line x1="383.40" y1="577.00" x2="423.30" y2="614.00" stroke="#e27be0" stroke-width="1.05"/>
<line x1="382.75" y1="577.70" x2="422.65" y2="614.70" stroke="#7c8494" stroke-width="0.8925"/>
<line x1="415.25" y1="585.20" x2="383.65" y2="605.30" stroke="#c6dc4a" stroke-width="1.05"/>
<line x1="414.75" y1="584.40" x2="383.15" y2="604.50" stroke="#7c8494" stroke-width="0.8925"/>
<line x1="347.64" y1="610.10" x2="383.14" y2="603.50" stroke="#c6dc4a" stroke-width="1.05"/>
<line x1="347.81" y1="611.03" x2="383.31" y2="604.43" stroke="#7c8494" stroke-width="0.8925"/>
<line x1="347.99" y1="611.97" x2="383.49" y2="605.37" stroke="#e27be0" stroke-width="1.05"/>
<line x1="348.16" y1="612.90" x2="383.66" y2="606.30" stroke="#c6dc4a" stroke-width="1.05"/>
<line x1="348.37" y1="611.53" x2="346.47" y2="644.63" stroke="#c6dc4a" stroke-width="1.05"/>
<line x1="347.43" y1="611.47" x2="345.53" y2="644.57" stroke="#7c8494" stroke-width="0.8925"/>
<line x1="383.61" y1="603.97" x2="423.51" y2="613.07" stroke="#7c8494" stroke-width="0.8925"/>
<line x1="383.40" y1="604.90" x2="423.30" y2="614.00" stroke="#e27be0" stroke-width="1.05"/>
<line x1="383.19" y1="605.83" x2="423.09" y2="614.93" stroke="#c6dc4a" stroke-width="1.05"/>
<line x1="384.82" y1="604.98" x2="382.92" y2="639.28" stroke="#7c8494" stroke-width="0.8925"/>
<line x1="383.87" y1="604.93" x2="381.97" y2="639.23" stroke="#e27be0" stroke-width="1.05"/>
<line x1="382.93" y1="604.87" x2="381.03" y2="639.17" stroke="#6fcdea" stroke-width="1.05"/>
<line x1="381.98" y1="604.82" x2="380.08" y2="639.12" stroke="#c6dc4a" stroke-width="1.05"/>
<line x1="385.02" y1="603.90" x2="418.52" y2="658.30" stroke="#7c8494" stroke-width="0.8925"/>
<line x1="383.40" y1="604.90" x2="416.90" y2="659.30" stroke="#e27be0" stroke-width="1.05"/>
<line x1="382.59" y1="605.40" x2="416.09" y2="659.80" stroke="#6fcdea" stroke-width="1.05"/>
<line x1="381.78" y1="605.90" x2="415.28" y2="660.30" stroke="#c6dc4a" stroke-width="1.05"/>
<line x1="424.24" y1="614.13" x2="417.84" y2="659.43" stroke="#7c8494" stroke-width="0.8925"/>
<line x1="423.30" y1="614.00" x2="416.90" y2="659.30" stroke="#e27be0" stroke-width="1.05"/>
<line x1="422.36" y1="613.87" x2="415.96" y2="659.17" stroke="#c6dc4a" stroke-width="1.05"/>
<line x1="381.87" y1="638.55" x2="417.27" y2="658.65" stroke="#6fcdea" stroke-width="1.05"/>
<line x1="381.13" y1="639.85" x2="416.53" y2="659.95" stroke="#c6dc4a" stroke-width="1.05"/>
<line x1="346.19" y1="643.67" x2="417.09" y2="658.37" stroke="#c6dc4a" stroke-width="1.05"/>
<line x1="346.00" y1="644.60" x2="416.90" y2="659.30" stroke="#e27be0" stroke-width="1.05"/>
<line x1="345.81" y1="645.53" x2="416.71" y2="660.23" stroke="#7c8494" stroke-width="0.8925"/>
<line x1="416.57" y1="658.80" x2="459.17" y2="630.20" stroke="#e27be0" stroke-width="1.3" stroke-dasharray="1.3 1.2"/>
<line x1="417.23" y1="659.80" x2="459.83" y2="631.20" stroke="#c6dc4a" stroke-width="1.3" stroke-dasharray="1.3 1.2"/>
<line x1="459.56" y1="629.20" x2="489.76" y2="630.40" stroke="#c6dc4a" stroke-width="1.1"/>
<line x1="459.52" y1="630.20" x2="489.72" y2="631.40" stroke="#6fcdea" stroke-width="1.1"/>
<line x1="459.48" y1="631.20" x2="489.68" y2="632.40" stroke="#9a86e0" stroke-width="1.1"/>
<line x1="459.44" y1="632.20" x2="489.64" y2="633.40" stroke="#e27be0" stroke-width="1.1"/>
<line x1="460.04" y1="630.57" x2="469.44" y2="670.27" stroke="#7c8494" stroke-width="1.02" stroke-dasharray="1.3 1.3"/>
<line x1="458.96" y1="630.83" x2="468.36" y2="670.53" stroke="#c6dc4a" stroke-width="1.2" stroke-dasharray="1.3 1.3"/>
<line x1="490.18" y1="632.16" x2="469.38" y2="670.66" stroke="#9a86e0" stroke-width="1.2" stroke-dasharray="1.3 1.3"/>
<line x1="489.22" y1="631.64" x2="468.42" y2="670.14" stroke="#c6dc4a" stroke-width="1.2" stroke-dasharray="1.3 1.3"/>
<line x1="469.23" y1="669.51" x2="505.93" y2="683.01" stroke="#7c8494" stroke-width="0.8925"/>
<line x1="468.90" y1="670.40" x2="505.60" y2="683.90" stroke="#e27be0" stroke-width="1.05"/>
<line x1="468.57" y1="671.29" x2="505.27" y2="684.79" stroke="#c6dc4a" stroke-width="1.05"/>
<line x1="469.75" y1="670.82" x2="455.65" y2="699.22" stroke="#c6dc4a" stroke-width="1.05"/>
<line x1="468.90" y1="670.40" x2="454.80" y2="698.80" stroke="#e27be0" stroke-width="1.05"/>
<line x1="468.05" y1="669.98" x2="453.95" y2="698.38" stroke="#7c8494" stroke-width="0.8925"/>
<line x1="506.00" y1="685.27" x2="455.20" y2="700.17" stroke="#7c8494" stroke-width="0.8925"/>
<line x1="505.73" y1="684.36" x2="454.93" y2="699.26" stroke="#e27be0" stroke-width="1.05"/>
<line x1="505.47" y1="683.44" x2="454.67" y2="698.34" stroke="#6fcdea" stroke-width="1.05"/>
<line x1="505.20" y1="682.53" x2="454.40" y2="697.43" stroke="#c6dc4a" stroke-width="1.05"/>
<ellipse cx="349.4" cy="586.4" rx="6.7" ry="1.6" fill="#000" fill-opacity="0.10"/>
<circle cx="348.8" cy="578.9" r="7.9" fill="url(#nr)" stroke="#9c2e37" stroke-width="0.9"/>
<ellipse cx="348.6" cy="575.0" rx="5.6" ry="3.0" fill="#fff" fill-opacity="0.4"/>
<ellipse cx="384.0" cy="584.5" rx="6.7" ry="1.6" fill="#000" fill-opacity="0.10"/>
<circle cx="383.4" cy="577.0" r="7.9" fill="url(#nr)" stroke="#9c2e37" stroke-width="0.9"/>
<ellipse cx="383.2" cy="573.1" rx="5.6" ry="3.0" fill="#fff" fill-opacity="0.4"/>
<ellipse cx="415.6" cy="592.3" rx="6.7" ry="1.6" fill="#000" fill-opacity="0.10"/>
<circle cx="415.0" cy="584.8" r="7.9" fill="url(#nr)" stroke="#9c2e37" stroke-width="0.9"/>
<ellipse cx="414.8" cy="580.9" rx="5.6" ry="3.0" fill="#fff" fill-opacity="0.4"/>
<ellipse cx="348.5" cy="619.0" rx="6.7" ry="1.6" fill="#000" fill-opacity="0.10"/>
<circle cx="347.9" cy="611.5" r="7.9" fill="url(#nr)" stroke="#9c2e37" stroke-width="0.9"/>
<ellipse cx="347.7" cy="607.6" rx="5.6" ry="3.0" fill="#fff" fill-opacity="0.4"/>
<ellipse cx="384.0" cy="612.4" rx="6.7" ry="1.6" fill="#000" fill-opacity="0.10"/>
<circle cx="383.4" cy="604.9" r="7.9" fill="url(#nr)" stroke="#9c2e37" stroke-width="0.9"/>
<ellipse cx="383.2" cy="601.0" rx="5.6" ry="3.0" fill="#fff" fill-opacity="0.4"/>
<ellipse cx="423.9" cy="621.5" rx="6.7" ry="1.6" fill="#000" fill-opacity="0.10"/>
<circle cx="423.3" cy="614.0" r="7.9" fill="url(#nr)" stroke="#9c2e37" stroke-width="0.9"/>
<ellipse cx="423.1" cy="610.1" rx="5.6" ry="3.0" fill="#fff" fill-opacity="0.4"/>
<ellipse cx="346.6" cy="652.1" rx="6.7" ry="1.6" fill="#000" fill-opacity="0.10"/>
<circle cx="346.0" cy="644.6" r="7.9" fill="url(#nr)" stroke="#9c2e37" stroke-width="0.9"/>
<ellipse cx="345.8" cy="640.7" rx="5.6" ry="3.0" fill="#fff" fill-opacity="0.4"/>
<ellipse cx="382.1" cy="646.7" rx="6.7" ry="1.6" fill="#000" fill-opacity="0.10"/>
<circle cx="381.5" cy="639.2" r="7.9" fill="url(#nr)" stroke="#9c2e37" stroke-width="0.9"/>
<ellipse cx="381.3" cy="635.3" rx="5.6" ry="3.0" fill="#fff" fill-opacity="0.4"/>
<ellipse cx="417.5" cy="666.8" rx="6.7" ry="1.6" fill="#000" fill-opacity="0.10"/>
<circle cx="416.9" cy="659.3" r="7.9" fill="url(#nr2)" stroke="#9c2e37" stroke-width="0.9"/>
<ellipse cx="416.7" cy="655.4" rx="5.6" ry="3.0" fill="#fff" fill-opacity="0.4"/>
<ellipse cx="460.1" cy="638.2" rx="6.7" ry="1.6" fill="#000" fill-opacity="0.10"/>
<circle cx="459.5" cy="630.7" r="7.9" fill="url(#nb)" stroke="#1f6172" stroke-width="0.9"/>
<ellipse cx="459.3" cy="626.8" rx="5.6" ry="3.0" fill="#fff" fill-opacity="0.4"/>
<ellipse cx="490.3" cy="639.4" rx="6.7" ry="1.6" fill="#000" fill-opacity="0.10"/>
<circle cx="489.7" cy="631.9" r="7.9" fill="url(#nb)" stroke="#1f6172" stroke-width="0.9"/>
<ellipse cx="489.5" cy="628.0" rx="5.6" ry="3.0" fill="#fff" fill-opacity="0.4"/>
<ellipse cx="469.5" cy="677.9" rx="6.7" ry="1.6" fill="#000" fill-opacity="0.10"/>
<circle cx="468.9" cy="670.4" r="7.9" fill="url(#ng)" stroke="#5b8c3a" stroke-width="0.9"/>
<ellipse cx="468.7" cy="666.5" rx="5.6" ry="3.0" fill="#fff" fill-opacity="0.4"/>
<ellipse cx="506.2" cy="691.4" rx="6.7" ry="1.6" fill="#000" fill-opacity="0.10"/>
<circle cx="505.6" cy="683.9" r="7.9" fill="url(#ng)" stroke="#5b8c3a" stroke-width="0.9"/>
<ellipse cx="505.4" cy="680.0" rx="5.6" ry="3.0" fill="#fff" fill-opacity="0.4"/>
<ellipse cx="455.4" cy="706.3" rx="6.7" ry="1.6" fill="#000" fill-opacity="0.10"/>
<circle cx="454.8" cy="698.8" r="7.9" fill="url(#ng)" stroke="#5b8c3a" stroke-width="0.9"/>
<ellipse cx="454.6" cy="694.9" rx="5.6" ry="3.0" fill="#fff" fill-opacity="0.4"/>
<ellipse cx="390.1" cy="698.9" rx="6.7" ry="1.6" fill="#000" fill-opacity="0.10"/>
<circle cx="389.5" cy="691.4" r="7.9" fill="url(#nw)" stroke="#85858d" stroke-width="0.9"/>
<ellipse cx="389.3" cy="687.5" rx="5.6" ry="3.0" fill="#fff" fill-opacity="0.4"/>
<ellipse cx="419.6" cy="707.1" rx="6.7" ry="1.6" fill="#000" fill-opacity="0.10"/>
<circle cx="419.0" cy="699.6" r="7.9" fill="url(#nw)" stroke="#85858d" stroke-width="0.9"/>
<ellipse cx="418.8" cy="695.7" rx="5.6" ry="3.0" fill="#fff" fill-opacity="0.4"/>
<path d="M345.8 578.4 q1.5 -2.5 3 0 t3 0.5 M346.8 580.4 q2 1.8 4 -0.8" fill="none" stroke="#b03ab0" stroke-width="0.7" stroke-opacity="0.85"/>
<path d="M412.0 584.3 q1.5 -2.5 3 0 t3 0.5 M413.0 586.3 q2 1.8 4 -0.8" fill="none" stroke="#c9a020" stroke-width="0.7" stroke-opacity="0.85"/>
<path d="M413.5 583.0 l3 3.2" fill="none" stroke="#8030a0" stroke-width="0.6" stroke-opacity="0.8"/>
<path d="M380.4 604.4 q1.5 -2.5 3 0 t3 0.5 M381.4 606.4 q2 1.8 4 -0.8" fill="none" stroke="#d0a020" stroke-width="0.7" stroke-opacity="0.85"/>
<path d="M381.9 603.1 l3 3.2" fill="none" stroke="#a02080" stroke-width="0.6" stroke-opacity="0.8"/>
<path d="M420.3 613.5 q1.5 -2.5 3 0 t3 0.5 M421.3 615.5 q2 1.8 4 -0.8" fill="none" stroke="#b04080" stroke-width="0.7" stroke-opacity="0.85"/>
<path d="M378.5 638.7 q1.5 -2.5 3 0 t3 0.5 M379.5 640.7 q2 1.8 4 -0.8" fill="none" stroke="#c03060" stroke-width="0.7" stroke-opacity="0.85"/>
<path d="M413.9 658.8 q1.5 -2.5 3 0 t3 0.5 M414.9 660.8 q2 1.8 4 -0.8" fill="none" stroke="#d01020" stroke-width="0.7" stroke-opacity="0.85"/>
<path d="M415.4 657.5 l3 3.2" fill="none" stroke="#a01040" stroke-width="0.6" stroke-opacity="0.8"/>
<path d="M456.5 630.2 q1.5 -2.5 3 0 t3 0.5 M457.5 632.2 q2 1.8 4 -0.8" fill="none" stroke="#7a1830" stroke-width="0.7" stroke-opacity="0.85"/>
<path d="M458.0 628.9 l3 3.2" fill="none" stroke="#402060" stroke-width="0.6" stroke-opacity="0.8"/>
<path d="M344.9 611.0 q1.5 -2.5 3 0 t3 0.5 M345.9 613.0 q2 1.8 4 -0.8" fill="none" stroke="#c04070" stroke-width="0.7" stroke-opacity="0.85"/>
<path d="M343.0 644.1 q1.5 -2.5 3 0 t3 0.5 M344.0 646.1 q2 1.8 4 -0.8" fill="none" stroke="#c04060" stroke-width="0.7" stroke-opacity="0.85"/>
<path d="M380.4 576.5 q1.5 -2.5 3 0 t3 0.5 M381.4 578.5 q2 1.8 4 -0.8" fill="none" stroke="#d06070" stroke-width="0.7" stroke-opacity="0.85"/>
<path d="M465.9 669.9 q1.5 -2.5 3 0 t3 0.5 M466.9 671.9 q2 1.8 4 -0.8" fill="none" stroke="#a0c040" stroke-width="0.7" stroke-opacity="0.85"/>
<path d="M502.6 683.4 q1.5 -2.5 3 0 t3 0.5 M503.6 685.4 q2 1.8 4 -0.8" fill="none" stroke="#707070" stroke-width="0.7" stroke-opacity="0.85"/>
<path d="M451.8 698.3 q1.5 -2.5 3 0 t3 0.5 M452.8 700.3 q2 1.8 4 -0.8" fill="none" stroke="#808878" stroke-width="0.7" stroke-opacity="0.85"/>
<path d="M386.5 690.9 q1.5 -2.5 3 0 t3 0.5 M387.5 692.9 q2 1.8 4 -0.8" fill="none" stroke="#9080c0" stroke-width="0.7" stroke-opacity="0.85"/>
<path d="M416.0 699.1 q1.5 -2.5 3 0 t3 0.5 M417.0 701.1 q2 1.8 4 -0.8" fill="none" stroke="#9080d0" stroke-width="0.7" stroke-opacity="0.85"/>
<text x="355.50" y="571.70" font-size="4.75" text-anchor="start" fill="#111" transform="rotate(0.03 355.50 571.70)" stroke="#111" stroke-width="0.16">NID1</text>
<text x="391.00" y="570.40" font-size="4.75" text-anchor="start" fill="#111" transform="rotate(0.03 391.00 570.40)" stroke="#111" stroke-width="0.16">SPP1</text>
<text x="422.10" y="578.20" font-size="4.75" text-anchor="start" fill="#111" transform="rotate(0.03 422.10 578.20)" stroke="#111" stroke-width="0.16">RARRES2</text>
<text x="355.00" y="605.00" font-size="4.75" text-anchor="start" fill="#111" transform="rotate(0.03 355.00 605.00)" stroke="#111" stroke-width="0.16">DCN</text>
<text x="391.00" y="598.30" font-size="4.75" text-anchor="start" fill="#111" transform="rotate(0.03 391.00 598.30)" stroke="#111" stroke-width="0.16">AHSG</text>
<text x="430.40" y="607.30" font-size="4.75" text-anchor="start" fill="#111" transform="rotate(0.03 430.40 607.30)" stroke="#111" stroke-width="0.16">F2</text>
<text x="353.10" y="637.80" font-size="4.75" text-anchor="start" fill="#111" transform="rotate(0.03 353.10 637.80)" stroke="#111" stroke-width="0.16">C1R</text>
<text x="389.00" y="632.10" font-size="4.75" text-anchor="start" fill="#111" transform="rotate(0.03 389.00 632.10)" stroke="#111" stroke-width="0.16">GAS6</text>
<text x="424.50" y="652.20" font-size="4.75" text-anchor="start" fill="#111" transform="rotate(0.03 424.50 652.20)" stroke="#111" stroke-width="0.16">SERPINA1</text>
<text x="466.80" y="624.20" font-size="4.75" text-anchor="start" fill="#111" transform="rotate(0.03 466.80 624.20)" stroke="#111" stroke-width="0.16">HBB</text>
<text x="496.80" y="625.30" font-size="4.75" text-anchor="start" fill="#111" transform="rotate(0.03 496.80 625.30)" stroke="#111" stroke-width="0.16">HBA1</text>
<text x="476.00" y="663.20" font-size="4.75" text-anchor="start" fill="#111" transform="rotate(0.03 476.00 663.20)" stroke="#111" stroke-width="0.16">SLC4A1</text>
<text x="513.40" y="677.40" font-size="4.75" text-anchor="start" fill="#111" transform="rotate(0.03 513.40 677.40)" stroke="#111" stroke-width="0.16">SPTA1</text>
<text x="462.10" y="691.50" font-size="4.75" text-anchor="start" fill="#111" transform="rotate(0.03 462.10 691.50)" stroke="#111" stroke-width="0.16">SPTB</text>
<text x="425.90" y="692.20" font-size="4.75" text-anchor="start" fill="#111" transform="rotate(0.03 425.90 692.20)" stroke="#111" stroke-width="0.16">TRIM33</text>
<text x="397.70" y="684.00" font-size="4.75" text-anchor="start" fill="#111" transform="rotate(0.03 397.70 684.00)" stroke="#111" stroke-width="0.16">ZNF648</text>
</g>
<g id="panelE">
<rect x="120.00" y="782.70" width="253.10" height="121.32" fill="#000"/>
<rect x="120.60" y="783.30" width="24.65" height="4.43" fill="#00ff00"/>
<rect x="120.60" y="788.33" width="24.65" height="4.43" fill="#006600"/>
<rect x="120.60" y="793.36" width="24.65" height="4.43" fill="#008800"/>
<rect x="120.60" y="798.39" width="24.65" height="4.43" fill="#330000"/>
<rect x="120.60" y="803.42" width="24.65" height="4.43" fill="#009900"/>
<rect x="120.60" y="808.45" width="24.65" height="4.43" fill="#00aa00"/>
<rect x="120.60" y="813.48" width="24.65" height="4.43" fill="#000000"/>
<rect x="120.60" y="818.51" width="24.65" height="4.43" fill="#ff0000"/>
<rect x="120.60" y="823.54" width="24.65" height="4.43" fill="#220000"/>
<rect x="120.60" y="828.57" width="24.65" height="4.43" fill="#220000"/>
<rect x="120.60" y="833.60" width="24.65" height="4.43" fill="#330000"/>
<rect x="120.60" y="838.63" width="24.65" height="4.43" fill="#003b00"/>
<rect x="120.60" y="843.66" width="24.65" height="4.43" fill="#ff0000"/>
<rect x="120.60" y="848.69" width="24.65" height="4.43" fill="#000800"/>
<rect x="120.60" y="853.72" width="24.65" height="4.43" fill="#330000"/>
<rect x="120.60" y="858.75" width="24.65" height="4.43" fill="#007700"/>
<rect x="120.60" y="863.78" width="24.65" height="4.43" fill="#000000"/>
<rect x="120.60" y="868.81" width="24.65" height="4.43" fill="#008800"/>
<rect x="120.60" y="873.84" width="24.65" height="4.43" fill="#aa0000"/>
<rect x="120.60" y="878.87" width="24.65" height="4.43" fill="#880000"/>
<rect x="120.60" y="883.90" width="24.65" height="4.43" fill="#008800"/>
<rect x="120.60" y="888.93" width="24.65" height="4.43" fill="#ff0000"/>
<rect x="120.60" y="893.96" width="24.65" height="4.43" fill="#ff0000"/>
<rect x="120.60" y="898.99" width="24.65" height="4.43" fill="#770000"/>
<rect x="145.85" y="783.30" width="24.65" height="4.43" fill="#009900"/>
<rect x="145.85" y="788.33" width="24.65" height="4.43" fill="#008800"/>
<rect x="145.85" y="793.36" width="24.65" height="4.43" fill="#008000"/>
<rect x="145.85" y="798.39" width="24.65" height="4.43" fill="#005500"/>
<rect x="145.85" y="803.42" width="24.65" height="4.43" fill="#005500"/>
<rect x="145.85" y="808.45" width="24.65" height="4.43" fill="#003300"/>
<rect x="145.85" y="813.48" width="24.65" height="4.43" fill="#ee0000"/>
<rect x="145.85" y="818.51" width="24.65" height="4.43" fill="#002200"/>
<rect x="145.85" y="823.54" width="24.65" height="4.43" fill="#990000"/>
<rect x="145.85" y="828.57" width="24.65" height="4.43" fill="#ff0000"/>
<rect x="145.85" y="833.60" width="24.65" height="4.43" fill="#ff0000"/>
<rect x="145.85" y="838.63" width="24.65" height="4.43" fill="#990000"/>
<rect x="145.85" y="843.66" width="24.65" height="4.43" fill="#550000"/>
<rect x="145.85" y="848.69" width="24.65" height="4.43" fill="#2a0000"/>
<rect x="145.85" y="853.72" width="24.65" height="4.43" fill="#110000"/>
<rect x="145.85" y="858.75" width="24.65" height="4.43" fill="#006600"/>
<rect x="145.85" y="863.78" width="24.65" height="4.43" fill="#001100"/>
<rect x="145.85" y="868.81" width="24.65" height="4.43" fill="#550000"/>
<rect x="145.85" y="873.84" width="24.65" height="4.43" fill="#006600"/>
<rect x="145.85" y="878.87" width="24.65" height="4.43" fill="#007700"/>
<rect x="145.85" y="883.90" width="24.65" height="4.43" fill="#005500"/>
<rect x="145.85" y="888.93" width="24.65" height="4.43" fill="#550000"/>
<rect x="145.85" y="893.96" width="24.65" height="4.43" fill="#330000"/>
<rect x="145.85" y="898.99" width="24.65" height="4.43" fill="#006600"/>
<rect x="171.10" y="783.30" width="24.65" height="4.43" fill="#003300"/>
<rect x="171.10" y="788.33" width="24.65" height="4.43" fill="#006600"/>
<rect x="171.10" y="793.36" width="24.65" height="4.43" fill="#00dd00"/>
<rect x="171.10" y="798.39" width="24.65" height="4.43" fill="#00ff00"/>
<rect x="171.10" y="803.42" width="24.65" height="4.43" fill="#008800"/>
<rect x="171.10" y="808.45" width="24.65" height="4.43" fill="#009900"/>
<rect x="171.10" y="813.48" width="24.65" height="4.43" fill="#004400"/>
<rect x="171.10" y="818.51" width="24.65" height="4.43" fill="#880000"/>
<rect x="171.10" y="823.54" width="24.65" height="4.43" fill="#ff0000"/>
<rect x="171.10" y="828.57" width="24.65" height="4.43" fill="#ff0000"/>
<rect x="171.10" y="833.60" width="24.65" height="4.43" fill="#cc0000"/>
<rect x="171.10" y="838.63" width="24.65" height="4.43" fill="#ff0000"/>
<rect x="171.10" y="843.66" width="24.65" height="4.43" fill="#009900"/>
<rect x="171.10" y="848.69" width="24.65" height="4.43" fill="#00aa00"/>
<rect x="171.10" y="853.72" width="24.65" height="4.43" fill="#003300"/>
<rect x="171.10" y="858.75" width="24.65" height="4.43" fill="#ff0000"/>
<rect x="171.10" y="863.78" width="24.65" height="4.43" fill="#00ee00"/>
<rect x="171.10" y="868.81" width="24.65" height="4.43" fill="#00ff00"/>
<rect x="171.10" y="873.84" width="24.65" height="4.43" fill="#220000"/>
<rect x="171.10" y="878.87" width="24.65" height="4.43" fill="#2a0000"/>
<rect x="171.10" y="883.90" width="24.65" height="4.43" fill="#001100"/>
<rect x="171.10" y="888.93" width="24.65" height="4.43" fill="#00bb00"/>
<rect x="171.10" y="893.96" width="24.65" height="4.43" fill="#00cc00"/>
<rect x="171.10" y="898.99" width="24.65" height="4.43" fill="#660000"/>
<rect x="196.35" y="783.30" width="24.65" height="4.43" fill="#bb0000"/>
<rect x="196.35" y="788.33" width="24.65" height="4.43" fill="#ff0000"/>
<rect x="196.35" y="793.36" width="24.65" height="4.43" fill="#880000"/>
<rect x="196.35" y="798.39" width="24.65" height="4.43" fill="#ee0000"/>
<rect x="196.35" y="803.42" width="24.65" height="4.43" fill="#cc0000"/>
<rect x="196.35" y="808.45" width="24.65" height="4.43" fill="#ff0000"/>
<rect x="196.35" y="813.48" width="24.65" height="4.43" fill="#008800"/>
<rect x="196.35" y="818.51" width="24.65" height="4.43" fill="#007700"/>
<rect x="196.35" y="823.54" width="24.65" height="4.43" fill="#003300"/>
<rect x="196.35" y="828.57" width="24.65" height="4.43" fill="#002a00"/>
<rect x="196.35" y="833.60" width="24.65" height="4.43" fill="#005500"/>
<rect x="196.35" y="838.63" width="24.65" height="4.43" fill="#003b00"/>
<rect x="196.35" y="843.66" width="24.65" height="4.43" fill="#770000"/>
<rect x="196.35" y="848.69" width="24.65" height="4.43" fill="#007700"/>
<rect x="196.35" y="853.72" width="24.65" height="4.43" fill="#006600"/>
<rect x="196.35" y="858.75" width="24.65" height="4.43" fill="#003300"/>
<rect x="196.35" y="863.78" width="24.65" height="4.43" fill="#dd0000"/>
<rect x="196.35" y="868.81" width="24.65" height="4.43" fill="#ee0000"/>
<rect x="196.35" y="873.84" width="24.65" height="4.43" fill="#dd0000"/>
<rect x="196.35" y="878.87" width="24.65" height="4.43" fill="#dd0000"/>
<rect x="196.35" y="883.90" width="24.65" height="4.43" fill="#000000"/>
<rect x="196.35" y="888.93" width="24.65" height="4.43" fill="#660000"/>
<rect x="196.35" y="893.96" width="24.65" height="4.43" fill="#660000"/>
<rect x="196.35" y="898.99" width="24.65" height="4.43" fill="#bb0000"/>
<rect x="221.60" y="783.30" width="24.65" height="4.43" fill="#ff0000"/>
<rect x="221.60" y="788.33" width="24.65" height="4.43" fill="#006600"/>
<rect x="221.60" y="793.36" width="24.65" height="4.43" fill="#660000"/>
<rect x="221.60" y="798.39" width="24.65" height="4.43" fill="#bb0000"/>
<rect x="221.60" y="803.42" width="24.65" height="4.43" fill="#ff0000"/>
<rect x="221.60" y="808.45" width="24.65" height="4.43" fill="#009900"/>
<rect x="221.60" y="813.48" width="24.65" height="4.43" fill="#009000"/>
<rect x="221.60" y="818.51" width="24.65" height="4.43" fill="#00ff00"/>
<rect x="221.60" y="823.54" width="24.65" height="4.43" fill="#004400"/>
<rect x="221.60" y="828.57" width="24.65" height="4.43" fill="#003300"/>
<rect x="221.60" y="833.60" width="24.65" height="4.43" fill="#004400"/>
<rect x="221.60" y="838.63" width="24.65" height="4.43" fill="#005500"/>
<rect x="221.60" y="843.66" width="24.65" height="4.43" fill="#bb0000"/>
<rect x="221.60" y="848.69" width="24.65" height="4.43" fill="#00bb00"/>
<rect x="221.60" y="853.72" width="24.65" height="4.43" fill="#00cc00"/>
<rect x="221.60" y="858.75" width="24.65" height="4.43" fill="#005500"/>
<rect x="221.60" y="863.78" width="24.65" height="4.43" fill="#ff0000"/>
<rect x="221.60" y="868.81" width="24.65" height="4.43" fill="#ff0000"/>
<rect x="221.60" y="873.84" width="24.65" height="4.43" fill="#cc0000"/>
<rect x="221.60" y="878.87" width="24.65" height="4.43" fill="#ee0000"/>
<rect x="221.60" y="883.90" width="24.65" height="4.43" fill="#330000"/>
<rect x="221.60" y="888.93" width="24.65" height="4.43" fill="#770000"/>
<rect x="221.60" y="893.96" width="24.65" height="4.43" fill="#770000"/>
<rect x="221.60" y="898.99" width="24.65" height="4.43" fill="#990000"/>
<rect x="246.85" y="783.30" width="24.65" height="4.43" fill="#190000"/>
<rect x="246.85" y="788.33" width="24.65" height="4.43" fill="#000000"/>
<rect x="246.85" y="793.36" width="24.65" height="4.43" fill="#ff0000"/>
<rect x="246.85" y="798.39" width="24.65" height="4.43" fill="#2a0000"/>
<rect x="246.85" y="803.42" width="24.65" height="4.43" fill="#003b00"/>
<rect x="246.85" y="808.45" width="24.65" height="4.43" fill="#440000"/>
<rect x="246.85" y="813.48" width="24.65" height="4.43" fill="#008800"/>
<rect x="246.85" y="818.51" width="24.65" height="4.43" fill="#330000"/>
<rect x="246.85" y="823.54" width="24.65" height="4.43" fill="#004400"/>
<rect x="246.85" y="828.57" width="24.65" height="4.43" fill="#005500"/>
<rect x="246.85" y="833.60" width="24.65" height="4.43" fill="#007700"/>
<rect x="246.85" y="838.63" width="24.65" height="4.43" fill="#005500"/>
<rect x="246.85" y="843.66" width="24.65" height="4.43" fill="#006600"/>
<rect x="246.85" y="848.69" width="24.65" height="4.43" fill="#001100"/>
<rect x="246.85" y="853.72" width="24.65" height="4.43" fill="#001100"/>
<rect x="246.85" y="858.75" width="24.65" height="4.43" fill="#660000"/>
<rect x="246.85" y="863.78" width="24.65" height="4.43" fill="#110000"/>
<rect x="246.85" y="868.81" width="24.65" height="4.43" fill="#190000"/>
<rect x="246.85" y="873.84" width="24.65" height="4.43" fill="#008800"/>
<rect x="246.85" y="878.87" width="24.65" height="4.43" fill="#00bb00"/>
<rect x="246.85" y="883.90" width="24.65" height="4.43" fill="#ff0000"/>
<rect x="246.85" y="888.93" width="24.65" height="4.43" fill="#008800"/>
<rect x="246.85" y="893.96" width="24.65" height="4.43" fill="#009900"/>
<rect x="246.85" y="898.99" width="24.65" height="4.43" fill="#008800"/>
<rect x="272.10" y="783.30" width="24.65" height="4.43" fill="#2a0000"/>
<rect x="272.10" y="788.33" width="24.65" height="4.43" fill="#080000"/>
<rect x="272.10" y="793.36" width="24.65" height="4.43" fill="#ff0000"/>
<rect x="272.10" y="798.39" width="24.65" height="4.43" fill="#ee0000"/>
<rect x="272.10" y="803.42" width="24.65" height="4.43" fill="#008800"/>
<rect x="272.10" y="808.45" width="24.65" height="4.43" fill="#660000"/>
<rect x="272.10" y="813.48" width="24.65" height="4.43" fill="#00aa00"/>
<rect x="272.10" y="818.51" width="24.65" height="4.43" fill="#008800"/>
<rect x="272.10" y="823.54" width="24.65" height="4.43" fill="#000800"/>
<rect x="272.10" y="828.57" width="24.65" height="4.43" fill="#440000"/>
<rect x="272.10" y="833.60" width="24.65" height="4.43" fill="#cc0000"/>
<rect x="272.10" y="838.63" width="24.65" height="4.43" fill="#330000"/>
<rect x="272.10" y="843.66" width="24.65" height="4.43" fill="#770000"/>
<rect x="272.10" y="848.69" width="24.65" height="4.43" fill="#00bb00"/>
<rect x="272.10" y="853.72" width="24.65" height="4.43" fill="#00cc00"/>
<rect x="272.10" y="858.75" width="24.65" height="4.43" fill="#ff0000"/>
<rect x="272.10" y="863.78" width="24.65" height="4.43" fill="#080000"/>
<rect x="272.10" y="868.81" width="24.65" height="4.43" fill="#001900"/>
<rect x="272.10" y="873.84" width="24.65" height="4.43" fill="#990000"/>
<rect x="272.10" y="878.87" width="24.65" height="4.43" fill="#aa0000"/>
<rect x="272.10" y="883.90" width="24.65" height="4.43" fill="#ff0000"/>
<rect x="272.10" y="888.93" width="24.65" height="4.43" fill="#770000"/>
<rect x="272.10" y="893.96" width="24.65" height="4.43" fill="#880000"/>
<rect x="272.10" y="898.99" width="24.65" height="4.43" fill="#ff0000"/>
<rect x="297.35" y="783.30" width="24.65" height="4.43" fill="#660000"/>
<rect x="297.35" y="788.33" width="24.65" height="4.43" fill="#440000"/>
<rect x="297.35" y="793.36" width="24.65" height="4.43" fill="#005500"/>
<rect x="297.35" y="798.39" width="24.65" height="4.43" fill="#005500"/>
<rect x="297.35" y="803.42" width="24.65" height="4.43" fill="#005500"/>
<rect x="297.35" y="808.45" width="24.65" height="4.43" fill="#00aa00"/>
<rect x="297.35" y="813.48" width="24.65" height="4.43" fill="#770000"/>
<rect x="297.35" y="818.51" width="24.65" height="4.43" fill="#008800"/>
<rect x="297.35" y="823.54" width="24.65" height="4.43" fill="#00ee00"/>
<rect x="297.35" y="828.57" width="24.65" height="4.43" fill="#00ff00"/>
<rect x="297.35" y="833.60" width="24.65" height="4.43" fill="#00ee00"/>
<rect x="297.35" y="838.63" width="24.65" height="4.43" fill="#00cc00"/>
<rect x="297.35" y="843.66" width="24.65" height="4.43" fill="#00dd00"/>
<rect x="297.35" y="848.69" width="24.65" height="4.43" fill="#990000"/>
<rect x="297.35" y="853.72" width="24.65" height="4.43" fill="#660000"/>
<rect x="297.35" y="858.75" width="24.65" height="4.43" fill="#005500"/>
<rect x="297.35" y="863.78" width="24.65" height="4.43" fill="#660000"/>
<rect x="297.35" y="868.81" width="24.65" height="4.43" fill="#004400"/>
<rect x="297.35" y="873.84" width="24.65" height="4.43" fill="#00ee00"/>
<rect x="297.35" y="878.87" width="24.65" height="4.43" fill="#00ff00"/>
<rect x="297.35" y="883.90" width="24.65" height="4.43" fill="#110000"/>
<rect x="297.35" y="888.93" width="24.65" height="4.43" fill="#00cc00"/>
<rect x="297.35" y="893.96" width="24.65" height="4.43" fill="#00cc00"/>
<rect x="297.35" y="898.99" width="24.65" height="4.43" fill="#00ee00"/>
<rect x="322.60" y="783.30" width="24.65" height="4.43" fill="#003300"/>
<rect x="322.60" y="788.33" width="24.65" height="4.43" fill="#660000"/>
<rect x="322.60" y="793.36" width="24.65" height="4.43" fill="#00bb00"/>
<rect x="322.60" y="798.39" width="24.65" height="4.43" fill="#00bb00"/>
<rect x="322.60" y="803.42" width="24.65" height="4.43" fill="#004400"/>
<rect x="322.60" y="808.45" width="24.65" height="4.43" fill="#190000"/>
<rect x="322.60" y="813.48" width="24.65" height="4.43" fill="#ff0000"/>
<rect x="322.60" y="818.51" width="24.65" height="4.43" fill="#ff0000"/>
<rect x="322.60" y="823.54" width="24.65" height="4.43" fill="#008800"/>
<rect x="322.60" y="828.57" width="24.65" height="4.43" fill="#009900"/>
<rect x="322.60" y="833.60" width="24.65" height="4.43" fill="#00bb00"/>
<rect x="322.60" y="838.63" width="24.65" height="4.43" fill="#008800"/>
<rect x="322.60" y="843.66" width="24.65" height="4.43" fill="#00aa00"/>
<rect x="322.60" y="848.69" width="24.65" height="4.43" fill="#cc0000"/>
<rect x="322.60" y="853.72" width="24.65" height="4.43" fill="#ff0000"/>
<rect x="322.60" y="858.75" width="24.65" height="4.43" fill="#009900"/>
<rect x="322.60" y="863.78" width="24.65" height="4.43" fill="#00cc00"/>
<rect x="322.60" y="868.81" width="24.65" height="4.43" fill="#007700"/>
<rect x="322.60" y="873.84" width="24.65" height="4.43" fill="#006600"/>
<rect x="322.60" y="878.87" width="24.65" height="4.43" fill="#007700"/>
<rect x="322.60" y="883.90" width="24.65" height="4.43" fill="#00dd00"/>
<rect x="322.60" y="888.93" width="24.65" height="4.43" fill="#008800"/>
<rect x="322.60" y="893.96" width="24.65" height="4.43" fill="#008800"/>
<rect x="322.60" y="898.99" width="24.65" height="4.43" fill="#007700"/>
<rect x="347.85" y="783.30" width="24.65" height="4.43" fill="#009900"/>
<rect x="347.85" y="788.33" width="24.65" height="4.43" fill="#007700"/>
<rect x="347.85" y="793.36" width="24.65" height="4.43" fill="#001900"/>
<rect x="347.85" y="798.39" width="24.65" height="4.43" fill="#008800"/>
<rect x="347.85" y="803.42" width="24.65" height="4.43" fill="#550000"/>
<rect x="347.85" y="808.45" width="24.65" height="4.43" fill="#880000"/>
<rect x="347.85" y="813.48" width="24.65" height="4.43" fill="#080000"/>
<rect x="347.85" y="818.51" width="24.65" height="4.43" fill="#001900"/>
<rect x="347.85" y="823.54" width="24.65" height="4.43" fill="#004400"/>
<rect x="347.85" y="828.57" width="24.65" height="4.43" fill="#008800"/>
<rect x="347.85" y="833.60" width="24.65" height="4.43" fill="#080000"/>
<rect x="347.85" y="838.63" width="24.65" height="4.43" fill="#003300"/>
<rect x="347.85" y="843.66" width="24.65" height="4.43" fill="#009900"/>
<rect x="347.85" y="848.69" width="24.65" height="4.43" fill="#ff0000"/>
<rect x="347.85" y="853.72" width="24.65" height="4.43" fill="#000000"/>
<rect x="347.85" y="858.75" width="24.65" height="4.43" fill="#009900"/>
<rect x="347.85" y="863.78" width="24.65" height="4.43" fill="#00aa00"/>
<rect x="347.85" y="868.81" width="24.65" height="4.43" fill="#008800"/>
<rect x="347.85" y="873.84" width="24.65" height="4.43" fill="#008800"/>
<rect x="347.85" y="878.87" width="24.65" height="4.43" fill="#008800"/>
<rect x="347.85" y="883.90" width="24.65" height="4.43" fill="#00dd00"/>
<rect x="347.85" y="888.93" width="24.65" height="4.43" fill="#007700"/>
<rect x="347.85" y="893.96" width="24.65" height="4.43" fill="#005500"/>
<rect x="347.85" y="898.99" width="24.65" height="4.43" fill="#00bb00"/>
<text x="376.80" y="787.22" font-size="4.8" text-anchor="start" fill="#222" transform="rotate(0.03 376.80 787.22)" stroke="#222" stroke-width="0.12">APOA1</text>
<text x="376.80" y="792.25" font-size="4.8" text-anchor="start" fill="#222" transform="rotate(0.03 376.80 792.25)" stroke="#222" stroke-width="0.12">DBF4B</text>
<text x="376.80" y="797.28" font-size="4.8" text-anchor="start" fill="#222" transform="rotate(0.03 376.80 797.28)" stroke="#222" stroke-width="0.12">SPP1</text>
<text x="376.80" y="802.31" font-size="4.8" text-anchor="start" fill="#222" transform="rotate(0.03 376.80 802.31)" stroke="#222" stroke-width="0.12">GAS6</text>
<text x="376.80" y="807.34" font-size="4.8" text-anchor="start" fill="#222" transform="rotate(0.03 376.80 807.34)" stroke="#222" stroke-width="0.12">APLP2</text>
<text x="376.80" y="812.37" font-size="4.8" text-anchor="start" fill="#222" transform="rotate(0.03 376.80 812.37)" stroke="#222" stroke-width="0.12">LRP1</text>
<text x="376.80" y="817.40" font-size="4.8" text-anchor="start" fill="#222" transform="rotate(0.03 376.80 817.40)" stroke="#222" stroke-width="0.12">C1R</text>
<text x="376.80" y="822.43" font-size="4.8" text-anchor="start" fill="#222" transform="rotate(0.03 376.80 822.43)" stroke="#222" stroke-width="0.12">IGHG4</text>
<text x="376.80" y="827.46" font-size="4.8" text-anchor="start" fill="#222" transform="rotate(0.03 376.80 827.46)" stroke="#222" stroke-width="0.12">FGB</text>
<text x="376.80" y="832.49" font-size="4.8" text-anchor="start" fill="#222" transform="rotate(0.03 376.80 832.49)" stroke="#222" stroke-width="0.12">TRIM33</text>
<text x="376.80" y="837.52" font-size="4.8" text-anchor="start" fill="#222" transform="rotate(0.03 376.80 837.52)" stroke="#222" stroke-width="0.12">FGA</text>
<text x="376.80" y="842.55" font-size="4.8" text-anchor="start" fill="#222" transform="rotate(0.03 376.80 842.55)" stroke="#222" stroke-width="0.12">FGG</text>
<text x="376.80" y="847.58" font-size="4.8" text-anchor="start" fill="#222" transform="rotate(0.03 376.80 847.58)" stroke="#222" stroke-width="0.12">SLC4A1</text>
<text x="376.80" y="852.61" font-size="4.8" text-anchor="start" fill="#222" transform="rotate(0.03 376.80 852.61)" stroke="#222" stroke-width="0.12">NID1</text>
<text x="376.80" y="857.63" font-size="4.8" text-anchor="start" fill="#222" transform="rotate(0.03 376.80 857.63)" stroke="#222" stroke-width="0.12">RARRES2</text>
<text x="376.80" y="862.67" font-size="4.8" text-anchor="start" fill="#222" transform="rotate(0.03 376.80 862.67)" stroke="#222" stroke-width="0.12">AHSG</text>
<text x="376.80" y="867.70" font-size="4.8" text-anchor="start" fill="#222" transform="rotate(0.03 376.80 867.70)" stroke="#222" stroke-width="0.12">"DCN;BGN"</text>
<text x="376.80" y="872.73" font-size="4.8" text-anchor="start" fill="#222" transform="rotate(0.03 376.80 872.73)" stroke="#222" stroke-width="0.12">F2</text>
<text x="376.80" y="877.76" font-size="4.8" text-anchor="start" fill="#222" transform="rotate(0.03 376.80 877.76)" stroke="#222" stroke-width="0.12">HBA1</text>
<text x="376.80" y="882.79" font-size="4.8" text-anchor="start" fill="#222" transform="rotate(0.03 376.80 882.79)" stroke="#222" stroke-width="0.12">"HBB;HBD"</text>
<text x="376.80" y="887.82" font-size="4.8" text-anchor="start" fill="#222" transform="rotate(0.03 376.80 887.82)" stroke="#222" stroke-width="0.12">SERPINA1</text>
<text x="376.80" y="892.85" font-size="4.8" text-anchor="start" fill="#222" transform="rotate(0.03 376.80 892.85)" stroke="#222" stroke-width="0.12">SPTA1</text>
<text x="376.80" y="897.88" font-size="4.8" text-anchor="start" fill="#222" transform="rotate(0.03 376.80 897.88)" stroke="#222" stroke-width="0.12">SPTB</text>
<text x="376.80" y="902.91" font-size="4.8" text-anchor="start" fill="#222" transform="rotate(0.03 376.80 902.91)" stroke="#222" stroke-width="0.12">ZNF648</text>
<text x="134.43" y="780.80" font-size="6.4" text-anchor="start" fill="#111" transform="rotate(-90 134.43 780.80)" stroke="#111" stroke-width="0.2">ICL_1</text>
<text x="159.68" y="780.80" font-size="6.4" text-anchor="start" fill="#111" transform="rotate(-90 159.68 780.80)" stroke="#111" stroke-width="0.2">ICL_2</text>
<text x="184.93" y="780.80" font-size="6.4" text-anchor="start" fill="#111" transform="rotate(-90 184.93 780.80)" stroke="#111" stroke-width="0.2">ICL_3</text>
<text x="210.18" y="780.80" font-size="6.4" text-anchor="start" fill="#111" transform="rotate(-90 210.18 780.80)" stroke="#111" stroke-width="0.2">Cataracts_1</text>
<text x="235.43" y="780.80" font-size="6.4" text-anchor="start" fill="#111" transform="rotate(-90 235.43 780.80)" stroke="#111" stroke-width="0.2">Cataracts_2</text>
<text x="260.68" y="780.80" font-size="6.4" text-anchor="start" fill="#111" transform="rotate(-90 260.68 780.80)" stroke="#111" stroke-width="0.2">Cataracts_3</text>
<text x="285.93" y="780.80" font-size="6.4" text-anchor="start" fill="#111" transform="rotate(-90 285.93 780.80)" stroke="#111" stroke-width="0.2">Cataracts_4</text>
<text x="311.18" y="780.80" font-size="6.4" text-anchor="start" fill="#111" transform="rotate(-90 311.18 780.80)" stroke="#111" stroke-width="0.2">Glaucoma_1</text>
<text x="336.43" y="780.80" font-size="6.4" text-anchor="start" fill="#111" transform="rotate(-90 336.43 780.80)" stroke="#111" stroke-width="0.2">Glaucoma_2</text>
<text x="361.68" y="780.80" font-size="6.4" text-anchor="start" fill="#111" transform="rotate(-90 361.68 780.80)" stroke="#111" stroke-width="0.2">Glaucoma_3</text>
<rect x="420.90" y="796.00" width="6.90" height="94.00" fill="url(#gE)" stroke="#111" stroke-width="0.5"/>
<text x="413.00" y="787.90" font-size="6.1" font-weight="bold" text-anchor="start" fill="#111" transform="rotate(90 413.00 787.90)">-  1.5</text>
<text x="413.00" y="842.90" font-size="6.1" font-weight="bold" text-anchor="middle" fill="#111" transform="rotate(90 413.00 842.90)">0.0</text>
<text x="413.00" y="893.80" font-size="6.1" font-weight="bold" text-anchor="end" fill="#111" transform="rotate(90 413.00 893.80)">1.5</text>
<text x="431.90" y="843.10" font-size="5.55" font-weight="bold" text-anchor="middle" fill="#111" transform="rotate(90 431.90 843.10)">TMT Signal Intensity</text>
</g>
</svg>
</body></html>
